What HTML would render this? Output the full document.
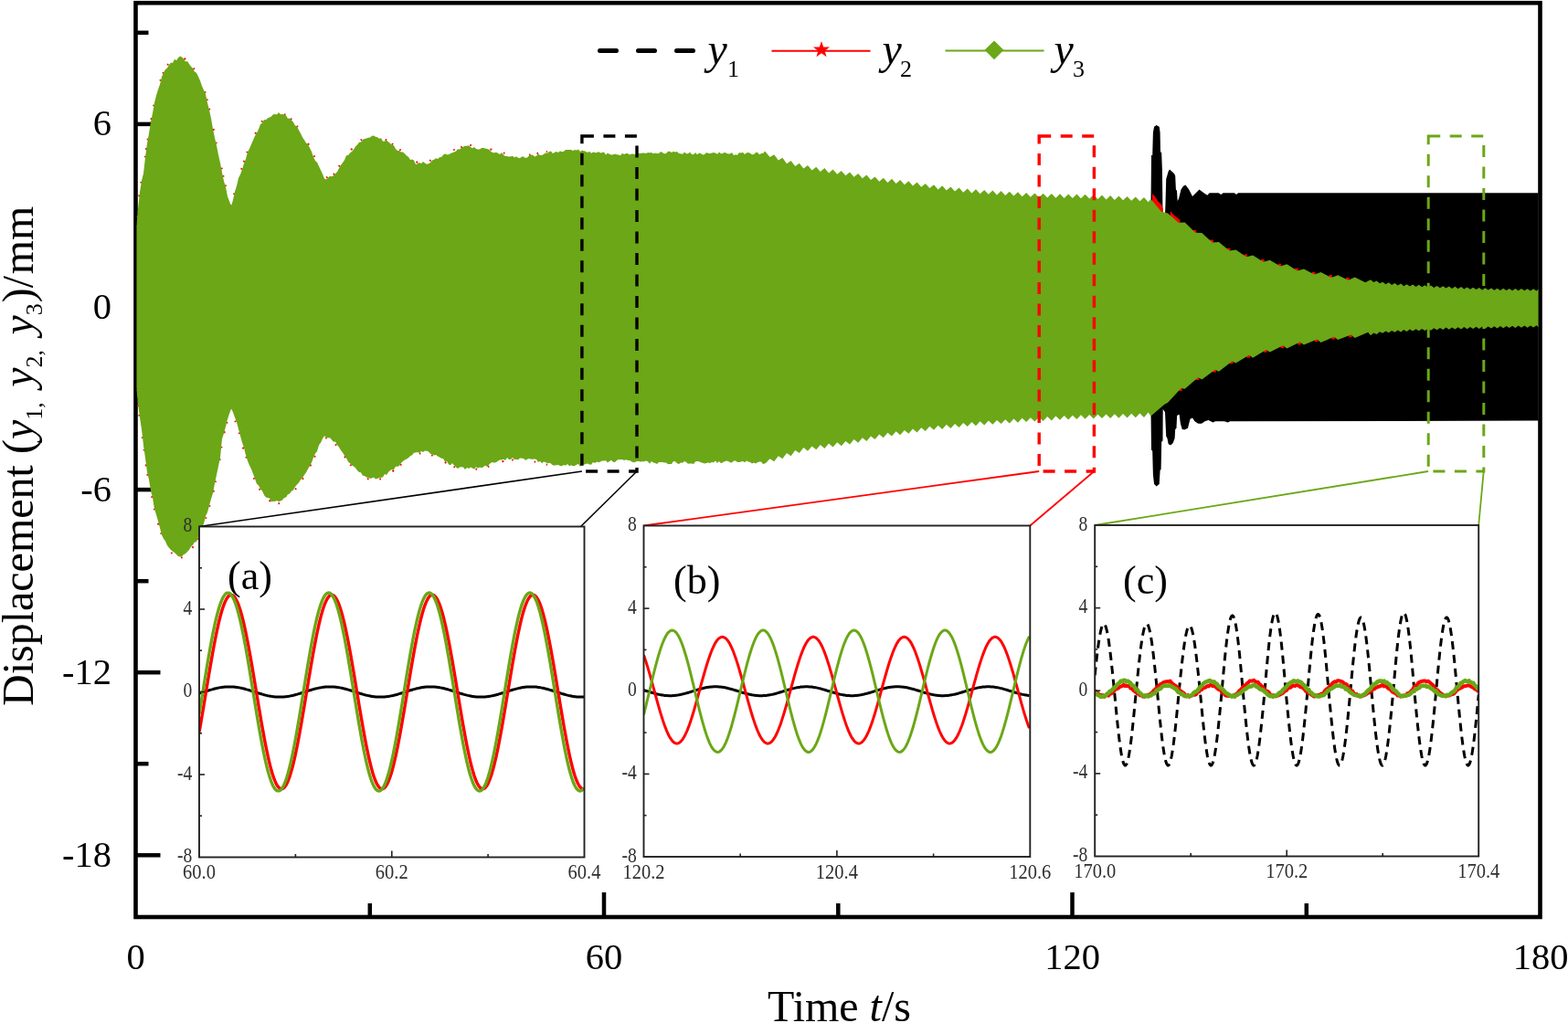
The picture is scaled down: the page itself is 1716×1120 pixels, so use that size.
<!DOCTYPE html>
<html><head><meta charset="utf-8"><style>
html,body{margin:0;padding:0;background:#fff;}
svg{display:block;}
text{font-family:"Liberation Serif","Times New Roman",serif;}
.tl{font-size:40.5px;fill:#000;}
.il{font-size:22.8px;fill:#2e2e2e;}
.pl{font-size:44px;fill:#000;}
.ttl{font-size:48px;fill:#000;}
.it{font-style:italic;}
</style></head><body>
<svg width="1716" height="1120" viewBox="0 0 1716 1120">
<defs>
<clipPath id="cmain"><rect x="149.5" y="5" width="1534" height="997"/></clipPath>
<clipPath id="ca"><rect x="218" y="576.5" width="421.5" height="362.0"/></clipPath>
<clipPath id="cb"><rect x="704.5" y="575.5" width="422.79999999999995" height="362.5"/></clipPath>
<clipPath id="cc"><rect x="1198.2" y="575" width="420.0" height="362.5"/></clipPath>
</defs>
<rect width="1716" height="1120" fill="#fff"/>
<rect x="148.5" y="3.2" width="1537" height="1000.8" fill="none" stroke="#000" stroke-width="4.6"/>
<line x1="148.5" y1="35.8" x2="162.5" y2="35.8" stroke="#000" stroke-width="4.5"/><line x1="148.5" y1="135.9" x2="175.5" y2="135.9" stroke="#000" stroke-width="4.5"/><line x1="148.5" y1="235.9" x2="162.5" y2="235.9" stroke="#000" stroke-width="4.5"/><line x1="148.5" y1="336.0" x2="175.5" y2="336.0" stroke="#000" stroke-width="4.5"/><line x1="148.5" y1="436.1" x2="162.5" y2="436.1" stroke="#000" stroke-width="4.5"/><line x1="148.5" y1="536.1" x2="175.5" y2="536.1" stroke="#000" stroke-width="4.5"/><line x1="148.5" y1="636.2" x2="162.5" y2="636.2" stroke="#000" stroke-width="4.5"/><line x1="148.5" y1="736.2" x2="175.5" y2="736.2" stroke="#000" stroke-width="4.5"/><line x1="148.5" y1="836.2" x2="162.5" y2="836.2" stroke="#000" stroke-width="4.5"/><line x1="148.5" y1="936.3" x2="175.5" y2="936.3" stroke="#000" stroke-width="4.5"/><line x1="404.8" y1="1004" x2="404.8" y2="989" stroke="#000" stroke-width="4.5"/><line x1="661.0" y1="1004" x2="661.0" y2="977" stroke="#000" stroke-width="4.5"/><line x1="917.3" y1="1004" x2="917.3" y2="989" stroke="#000" stroke-width="4.5"/><line x1="1173.5" y1="1004" x2="1173.5" y2="977" stroke="#000" stroke-width="4.5"/><line x1="1429.8" y1="1004" x2="1429.8" y2="989" stroke="#000" stroke-width="4.5"/>
<g clip-path="url(#cmain)">
<path d="M1259.5,225.0 L1260.0,170.0 L1261.2,170.0 L1261.9,145.0 L1263.1,138.7 L1265.6,136.9 L1268.7,138.7 L1269.6,145.0 L1270.0,166.0 L1271.2,167.5 L1271.9,186.0 L1272.5,236.0 L1275.0,236.0 L1275.6,218.7 L1276.2,196.0 L1278.7,187.5 L1280.0,185.6 L1285.0,190.0 L1286.2,192.5 L1286.9,207.5 L1288.0,208.7 L1288.7,220.0 L1290.0,217.5 L1292.5,207.5 L1295.0,203.7 L1297.5,202.5 L1301.2,207.5 L1305.0,215.0 L1307.5,212.5 L1312.5,207.5 L1317.5,211.2 L1321.2,213.7 L1323.7,211.2 L1333.7,211.2 L1336.2,213.0 L1338.7,211.2 L1351.0,211.2 L1353.0,213.0 L1355.0,211.2 L1684.0,211.2 L1684.0,460.6 L1346.2,461.2 L1343.7,462.5 L1340.0,461.2 L1330.0,461.2 L1327.5,462.5 L1322.5,460.0 L1318.7,461.2 L1315.0,463.7 L1311.2,463.7 L1307.5,461.2 L1305.0,457.5 L1302.5,458.7 L1301.2,463.7 L1300.0,468.7 L1296.2,470.6 L1293.7,470.0 L1291.9,463.7 L1290.6,453.7 L1288.1,455.0 L1287.5,468.7 L1286.2,470.0 L1285.6,480.0 L1283.7,485.0 L1281.2,487.5 L1278.7,486.2 L1277.5,480.0 L1276.2,477.5 L1275.0,451.2 L1272.7,448.0 L1272.5,482.5 L1271.2,483.7 L1270.6,513.7 L1269.6,515.0 L1268.7,530.0 L1265.6,532.5 L1263.1,530.0 L1261.9,520.0 L1261.2,493.7 L1260.0,492.5 L1259.5,450.0 Z" fill="#000"/>
<path d="M149.0,248.4 L150.5,233.4 L152.0,218.4 L153.5,203.9 L155.0,197.2 L156.5,190.4 L158.0,181.0 L159.5,166.5 L161.0,156.7 L162.5,147.5 L164.0,139.0 L165.5,130.7 L167.0,122.6 L168.5,114.5 L170.0,108.3 L171.5,102.3 L173.0,96.7 L174.5,91.6 L176.0,86.6 L177.5,82.6 L179.0,78.9 L180.5,75.1 L182.0,72.5 L183.5,70.9 L185.0,69.3 L186.5,67.7 L188.0,66.3 L189.5,65.5 L191.0,64.6 L192.5,63.7 L194.0,62.9 L195.5,62.0 L197.0,61.2 L198.5,61.6 L200.0,62.8 L201.5,63.9 L203.0,65.0 L204.5,66.2 L206.0,67.3 L207.5,68.4 L209.0,70.6 L210.5,72.9 L212.0,75.1 L213.5,77.4 L215.0,79.6 L216.5,82.6 L218.0,85.6 L219.5,88.6 L221.0,92.1 L222.5,95.9 L224.0,99.6 L225.5,104.2 L227.0,110.6 L228.5,117.0 L230.0,123.4 L231.5,131.0 L233.0,138.6 L234.5,146.1 L236.0,153.5 L237.5,160.9 L239.0,167.7 L240.5,174.4 L242.0,181.2 L243.5,188.6 L245.0,196.0 L246.5,201.9 L248.0,207.8 L249.5,213.7 L251.0,219.8 L252.5,225.9 L254.0,220.4 L255.5,214.8 L257.0,209.3 L258.5,203.8 L260.0,198.2 L261.5,193.4 L263.0,189.0 L264.5,184.5 L266.0,180.1 L267.5,175.6 L269.0,171.1 L270.5,166.7 L272.0,162.8 L273.5,159.5 L275.0,156.2 L276.5,152.9 L278.0,149.6 L279.5,146.2 L281.0,142.9 L282.5,139.6 L284.0,136.3 L285.5,134.1 L287.0,132.7 L288.5,131.3 L290.0,130.0 L291.5,128.6 L293.0,127.2 L294.5,125.9 L296.0,125.1 L297.5,124.7 L299.0,124.3 L300.5,123.9 L302.0,123.5 L303.5,123.1 L305.0,122.9 L306.5,123.5 L308.0,124.1 L309.5,124.7 L311.0,125.2 L312.5,125.8 L314.0,126.4 L315.5,127.7 L317.0,129.0 L318.5,130.3 L320.0,131.6 L321.5,132.9 L323.0,134.8 L324.5,137.2 L326.0,139.5 L327.5,141.9 L329.0,144.3 L330.5,146.7 L332.0,149.1 L333.5,151.4 L335.0,153.8 L336.5,156.2 L338.0,158.6 L339.5,161.6 L341.0,164.7 L342.5,167.8 L344.0,171.0 L345.5,174.1 L347.0,177.2 L348.5,180.3 L350.0,183.4 L351.5,186.6 L353.0,189.7 L354.5,192.8 L356.0,194.9 L357.5,194.3 L359.0,193.7 L360.5,193.0 L362.0,192.4 L363.5,191.7 L365.0,191.1 L366.5,188.9 L368.0,186.6 L369.5,184.4 L371.0,182.1 L372.5,179.9 L374.0,177.6 L375.5,175.4 L377.0,173.1 L378.5,170.9 L380.0,168.6 L381.5,166.6 L383.0,165.1 L384.5,163.7 L386.0,162.2 L387.5,160.7 L389.0,159.3 L390.5,157.8 L392.0,156.3 L393.5,154.9 L395.0,153.4 L396.5,152.8 L398.0,152.2 L399.5,151.6 L401.0,151.0 L402.5,150.4 L404.0,149.8 L405.5,149.2 L407.0,148.6 L408.5,148.4 L410.0,148.9 L411.5,149.4 L413.0,149.9 L414.5,150.4 L416.0,150.9 L417.5,151.4 L419.0,151.9 L420.5,152.4 L422.0,152.9 L423.5,153.4 L425.0,154.4 L426.5,155.5 L428.0,156.6 L429.5,157.7 L431.0,158.9 L432.5,160.0 L434.0,161.1 L435.5,162.2 L437.0,163.4 L438.5,164.5 L440.0,165.6 L441.5,166.7 L443.0,167.9 L444.5,169.0 L446.0,170.1 L447.5,171.2 L449.0,172.4 L450.5,173.5 L452.0,174.6 L453.5,175.7 L455.0,176.9 L456.5,177.7 L458.0,177.5 L459.5,177.4 L461.0,177.2 L462.5,177.1 L464.0,176.9 L465.5,176.8 L467.0,176.6 L468.5,176.5 L470.0,176.1 L471.5,175.4 L473.0,174.6 L474.5,173.9 L476.0,173.1 L477.5,172.4 L479.0,171.6 L480.5,170.9 L482.0,170.1 L483.5,169.4 L485.0,168.6 L486.5,167.9 L488.0,167.1 L489.5,166.5 L491.0,166.0 L492.5,165.5 L494.0,164.9 L495.5,164.4 L497.0,163.9 L498.5,163.3 L500.0,162.8 L501.5,162.3 L503.0,161.7 L504.5,161.2 L506.0,160.6 L507.5,160.1 L509.0,159.6 L510.5,159.0 L512.0,158.5 L513.5,158.6 L515.0,158.9 L516.5,159.1 L518.0,159.4 L519.5,159.6 L521.0,159.9 L522.5,160.2 L524.0,160.4 L525.5,160.7 L527.0,160.9 L528.5,161.2 L530.0,161.4 L531.5,161.8 L533.0,162.3 L534.5,162.7 L536.0,163.1 L537.5,163.6 L539.0,164.0 L540.5,164.4 L542.0,164.9 L543.5,165.3 L545.0,165.7 L546.5,166.2 L548.0,166.6 L549.5,167.0 L551.0,167.4 L552.5,167.8 L554.0,168.3 L555.5,168.7 L557.0,169.1 L558.5,169.5 L560.0,169.9 L561.5,170.1 L563.0,170.1 L564.5,170.1 L566.0,170.1 L567.5,170.1 L569.0,170.1 L570.5,170.1 L572.0,170.1 L573.5,170.1 L575.0,170.1 L576.5,170.1 L578.0,169.9 L579.5,169.6 L581.0,169.3 L582.5,169.0 L584.0,168.7 L585.5,168.4 L587.0,168.1 L588.5,167.8 L590.0,167.5 L591.5,167.2 L593.0,166.9 L594.5,166.7 L596.0,166.5 L597.5,166.2 L599.0,166.0" fill="none" stroke="#ff0000" stroke-width="2" stroke-dasharray="1.6 9 1.6 21 2 13 1.6 27 1.6 7"/>
<path d="M149.0,426.6 L150.5,438.7 L152.0,450.8 L153.5,462.8 L155.0,473.2 L156.5,483.8 L158.0,495.1 L159.5,506.3 L161.0,517.6 L162.5,525.5 L164.0,532.9 L165.5,540.3 L167.0,548.0 L168.5,555.6 L170.0,561.5 L171.5,567.1 L173.0,572.7 L174.5,577.9 L176.0,582.8 L177.5,587.7 L179.0,592.1 L180.5,594.6 L182.0,597.1 L183.5,599.6 L185.0,602.1 L186.5,604.3 L188.0,605.6 L189.5,606.8 L191.0,608.0 L192.5,609.2 L194.0,610.4 L195.5,611.6 L197.0,611.7 L198.5,610.7 L200.0,609.8 L201.5,608.8 L203.0,607.9 L204.5,606.9 L206.0,605.4 L207.5,603.5 L209.0,601.6 L210.5,599.7 L212.0,597.9 L213.5,596.0 L215.0,594.1 L216.5,590.3 L218.0,586.6 L219.5,582.8 L221.0,579.1 L222.5,575.3 L224.0,570.8 L225.5,566.3 L227.0,561.7 L228.5,557.2 L230.0,551.7 L231.5,546.1 L233.0,540.4 L234.5,533.9 L236.0,526.5 L237.5,519.1 L239.0,511.5 L240.5,503.9 L242.0,492.4 L243.5,480.2 L245.0,475.1 L246.5,470.0 L248.0,464.1 L249.5,458.7 L251.0,454.8 L252.5,450.9 L254.0,451.7 L255.5,455.7 L257.0,459.7 L258.5,463.8 L260.0,467.8 L261.5,472.1 L263.0,479.6 L264.5,485.7 L266.0,490.1 L267.5,494.5 L269.0,499.0 L270.5,503.6 L272.0,508.1 L273.5,512.0 L275.0,515.9 L276.5,519.8 L278.0,523.8 L279.5,527.9 L281.0,531.5 L282.5,533.6 L284.0,535.7 L285.5,537.8 L287.0,539.8 L288.5,541.5 L290.0,543.3 L291.5,545.0 L293.0,546.4 L294.5,547.5 L296.0,548.7 L297.5,549.9 L299.0,551.0 L300.5,551.2 L302.0,551.2 L303.5,551.2 L305.0,551.2 L306.5,550.6 L308.0,549.6 L309.5,548.7 L311.0,547.6 L312.5,546.4 L314.0,545.2 L315.5,544.0 L317.0,542.9 L318.5,541.3 L320.0,539.5 L321.5,537.7 L323.0,535.9 L324.5,534.1 L326.0,532.3 L327.5,530.0 L329.0,527.8 L330.5,525.5 L332.0,523.3 L333.5,520.7 L335.0,518.1 L336.5,515.5 L338.0,512.9 L339.5,510.0 L341.0,507.0 L342.5,503.9 L344.0,500.8 L345.5,497.6 L347.0,494.3 L348.5,491.1 L350.0,487.8 L351.5,484.6 L353.0,481.4 L354.5,480.5 L356.0,479.8 L357.5,479.3 L359.0,479.8 L360.5,480.2 L362.0,481.3 L363.5,482.8 L365.0,484.4 L366.5,485.9 L368.0,487.5 L369.5,489.3 L371.0,491.1 L372.5,492.9 L374.0,494.7 L375.5,496.9 L377.0,499.4 L378.5,501.9 L380.0,504.4 L381.5,506.4 L383.0,508.2 L384.5,510.0 L386.0,511.8 L387.5,513.6 L389.0,515.4 L390.5,517.2 L392.0,518.4 L393.5,519.3 L395.0,520.2 L396.5,521.0 L398.0,521.9 L399.5,522.8 L401.0,523.7 L402.5,524.2 L404.0,524.5 L405.5,524.9 L407.0,525.2 L408.5,525.5 L410.0,525.4 L411.5,525.1 L413.0,524.9 L414.5,524.6 L416.0,524.4 L417.5,524.1 L419.0,523.5 L420.5,522.5 L422.0,521.4 L423.5,520.4 L425.0,519.3 L426.5,518.2 L428.0,517.2 L429.5,516.1 L431.0,514.9 L432.5,513.7 L434.0,512.5 L435.5,511.3 L437.0,510.1 L438.5,508.9 L440.0,507.7 L441.5,506.5 L443.0,505.3 L444.5,504.1 L446.0,502.9 L447.5,501.7 L449.0,500.5 L450.5,499.6 L452.0,499.1 L453.5,498.6 L455.0,498.1 L456.5,497.6 L458.0,497.1 L459.5,496.5 L461.0,496.3 L462.5,496.4 L464.0,496.5 L465.5,496.6 L467.0,496.7 L468.5,496.8 L470.0,497.4 L471.5,498.0 L473.0,498.6 L474.5,499.2 L476.0,499.8 L477.5,500.4 L479.0,501.1 L480.5,501.8 L482.0,502.7 L483.5,503.7 L485.0,504.7 L486.5,505.6 L488.0,506.6 L489.5,507.6 L491.0,508.5 L492.5,509.2 L494.0,509.8 L495.5,510.5 L497.0,511.2 L498.5,511.8 L500.0,512.5 L501.5,513.1 L503.0,513.3 L504.5,513.5 L506.0,513.7 L507.5,514.0 L509.0,514.2 L510.5,514.4 L512.0,514.6 L513.5,514.4 L515.0,514.3 L516.5,514.1 L518.0,514.0 L519.5,513.8 L521.0,513.7 L522.5,513.5 L524.0,513.2 L525.5,512.9 L527.0,512.6 L528.5,512.3 L530.0,512.0 L531.5,511.7 L533.0,511.4 L534.5,510.8 L536.0,510.3 L537.5,509.7 L539.0,509.2 L540.5,508.6 L542.0,508.1 L543.5,507.6 L545.0,507.0 L546.5,506.5 L548.0,505.9 L549.5,505.4 L551.0,505.0 L552.5,504.7 L554.0,504.3 L555.5,504.0 L557.0,503.7 L558.5,503.4 L560.0,503.5 L561.5,503.5 L563.0,503.6 L564.5,503.6 L566.0,503.7 L567.5,503.7 L569.0,503.8 L570.5,503.8 L572.0,503.9 L573.5,503.9 L575.0,504.0 L576.5,504.0 L578.0,504.1 L579.5,504.1 L581.0,504.5 L582.5,504.9 L584.0,505.2 L585.5,505.6 L587.0,506.0 L588.5,506.3 L590.0,506.7 L591.5,507.1 L593.0,507.4 L594.5,507.8 L596.0,508.2 L597.5,508.5 L599.0,508.9" fill="none" stroke="#ff0000" stroke-width="2" stroke-dasharray="1.6 15 2 9 1.6 23 1.6 12"/>
<rect x="1268.4" y="229.0" width="3.6" height="3.2" fill="#ff0000"/><rect x="1287.0" y="240.9" width="3.6" height="3.2" fill="#ff0000"/><rect x="1305.6" y="252.0" width="3.6" height="3.2" fill="#ff0000"/><rect x="1324.2" y="262.6" width="3.6" height="3.2" fill="#ff0000"/><rect x="1342.8" y="271.7" width="3.6" height="3.2" fill="#ff0000"/><rect x="1361.4" y="278.4" width="3.6" height="3.2" fill="#ff0000"/><rect x="1380.0" y="283.9" width="3.6" height="3.2" fill="#ff0000"/><rect x="1398.6" y="288.7" width="3.6" height="3.2" fill="#ff0000"/><rect x="1417.2" y="293.7" width="3.6" height="3.2" fill="#ff0000"/><rect x="1435.8" y="297.8" width="3.6" height="3.2" fill="#ff0000"/><rect x="1454.4" y="301.2" width="3.6" height="3.2" fill="#ff0000"/><rect x="1473.0" y="303.9" width="3.6" height="3.2" fill="#ff0000"/><rect x="1290.0" y="424.7" width="3.6" height="3.2" fill="#ff0000"/><rect x="1308.6" y="412.9" width="3.6" height="3.2" fill="#ff0000"/><rect x="1327.2" y="404.3" width="3.6" height="3.2" fill="#ff0000"/><rect x="1345.8" y="395.1" width="3.6" height="3.2" fill="#ff0000"/><rect x="1364.4" y="388.4" width="3.6" height="3.2" fill="#ff0000"/><rect x="1383.0" y="382.5" width="3.6" height="3.2" fill="#ff0000"/><rect x="1401.6" y="377.9" width="3.6" height="3.2" fill="#ff0000"/><rect x="1420.2" y="374.1" width="3.6" height="3.2" fill="#ff0000"/><rect x="1438.8" y="371.0" width="3.6" height="3.2" fill="#ff0000"/><rect x="1457.4" y="368.3" width="3.6" height="3.2" fill="#ff0000"/><rect x="1476.0" y="366.1" width="3.6" height="3.2" fill="#ff0000"/>
<polygon points="1261,212 1264,215 1267,220 1271,224 1272.8,228 1272.8,233 1268,230 1261,222" fill="#ff0000"/>
<polygon points="1281,231 1284,235 1288,238 1291.5,241 1291.5,248 1287,246 1282,240 1280.5,236" fill="#ff0000"/>
<polygon points="1305,252 1309,254 1310,258 1306,257" fill="#ff0000"/>
<path d="M149.0,249.4 L151.0,228.9 L153.0,210.5 L155.0,197.4 L157.0,189.9 L159.0,172.2 L161.0,156.9 L163.0,146.3 L165.0,133.5 L167.0,124.0 L169.0,112.4 L171.0,104.6 L173.0,98.1 L175.0,92.6 L177.0,84.3 L179.0,79.6 L181.0,75.9 L183.0,74.5 L185.0,71.1 L187.0,68.4 L189.0,68.9 L191.0,64.8 L193.0,66.2 L195.0,63.3 L197.0,61.6 L199.0,62.4 L201.0,64.5 L203.0,67.6 L205.0,67.1 L207.0,69.9 L209.0,72.7 L211.0,74.8 L213.0,78.4 L215.0,79.8 L217.0,83.8 L219.0,88.3 L221.0,94.3 L223.0,98.5 L225.0,103.1 L227.0,112.5 L229.0,120.6 L231.0,129.4 L233.0,141.1 L235.0,150.8 L237.0,159.2 L239.0,169.5 L241.0,178.3 L243.0,188.8 L245.0,198.3 L247.0,204.8 L249.0,214.9 L251.0,220.2 L253.0,225.4 L255.0,219.1 L257.0,209.8 L259.0,203.5 L261.0,195.0 L263.0,191.1 L265.0,185.5 L267.0,178.9 L269.0,173.9 L271.0,166.2 L273.0,162.8 L275.0,158.1 L277.0,153.6 L279.0,148.8 L281.0,145.6 L283.0,141.6 L285.0,136.0 L287.0,134.8 L289.0,131.1 L291.0,131.3 L293.0,129.3 L295.0,128.6 L297.0,127.5 L299.0,125.2 L301.0,125.0 L303.0,125.4 L305.0,123.0 L307.0,125.2 L309.0,125.0 L311.0,125.6 L313.0,126.2 L315.0,129.7 L317.0,129.4 L319.0,131.5 L321.0,133.7 L323.0,137.6 L325.0,138.2 L327.0,142.6 L329.0,146.1 L331.0,150.3 L333.0,153.3 L335.0,156.6 L337.0,157.9 L339.0,161.9 L341.0,165.9 L343.0,171.7 L345.0,176.1 L347.0,177.7 L349.0,181.9 L351.0,186.3 L353.0,190.4 L355.0,195.4 L357.0,196.4 L359.0,194.5 L361.0,192.8 L363.0,193.3 L365.0,192.3 L367.0,189.9 L369.0,188.2 L371.0,184.3 L373.0,180.8 L375.0,178.1 L377.0,175.3 L379.0,170.3 L381.0,170.0 L383.0,167.6 L385.0,166.0 L387.0,163.8 L389.0,160.5 L391.0,158.6 L393.0,155.7 L395.0,155.4 L397.0,152.8 L399.0,152.0 L401.0,151.6 L403.0,150.7 L405.0,150.5 L407.0,148.7 L409.0,148.6 L411.0,149.7 L413.0,150.2 L415.0,151.7 L417.0,151.3 L419.0,154.7 L421.0,154.6 L423.0,153.7 L425.0,155.2 L427.0,157.0 L429.0,158.5 L431.0,159.2 L433.0,163.1 L435.0,165.0 L437.0,164.9 L439.0,166.4 L441.0,166.6 L443.0,168.2 L445.0,170.5 L447.0,171.7 L449.0,175.0 L451.0,174.4 L453.0,175.4 L455.0,179.9 L457.0,179.3 L459.0,177.9 L461.0,179.0 L463.0,177.1 L465.0,178.5 L467.0,179.8 L469.0,179.2 L471.0,177.9 L473.0,175.5 L475.0,174.8 L477.0,173.2 L479.0,174.1 L481.0,172.3 L483.0,172.1 L485.0,169.7 L487.0,168.3 L489.0,169.3 L491.0,169.2 L493.0,168.0 L495.0,167.2 L497.0,166.5 L499.0,165.5 L501.0,163.2 L503.0,163.4 L505.0,162.1 L507.0,160.4 L509.0,159.7 L511.0,159.8 L513.0,159.3 L515.0,161.1 L517.0,162.3 L519.0,161.0 L521.0,162.9 L523.0,163.4 L525.0,163.6 L527.0,162.1 L529.0,162.0 L531.0,162.4 L533.0,162.9 L535.0,163.5 L537.0,165.4 L539.0,166.9 L541.0,167.3 L543.0,166.7 L545.0,167.8 L547.0,168.9 L549.0,167.1 L551.0,169.5 L553.0,170.9 L555.0,171.0 L557.0,171.5 L559.0,171.2 L561.0,170.7 L563.0,172.6 L565.0,171.2 L567.0,172.7 L569.0,173.2 L571.0,171.4 L573.0,171.4 L575.0,173.1 L577.0,172.4 L579.0,170.2 L581.0,169.7 L583.0,169.4 L585.0,171.4 L587.0,170.7 L589.0,168.2 L591.0,170.0 L593.0,170.1 L595.0,168.7 L597.0,167.4 L599.0,167.7 L601.0,166.1 L603.0,165.4 L605.0,168.1 L607.0,166.8 L609.0,166.1 L611.0,167.1 L613.0,165.2 L615.0,166.2 L617.0,165.8 L619.0,163.9 L621.0,164.0 L623.0,164.1 L625.0,164.0 L627.0,165.1 L629.0,164.0 L631.0,164.5 L633.0,163.6 L635.0,166.1 L637.0,164.6 L639.0,165.2 L641.0,165.8 L643.0,167.1 L645.0,165.8 L647.0,167.7 L649.0,166.6 L651.0,167.0 L653.0,167.2 L655.0,165.9 L657.0,167.5 L659.0,166.9 L661.0,166.6 L663.0,169.4 L665.0,167.6 L667.0,168.7 L669.0,169.6 L671.0,169.2 L673.0,168.6 L675.0,169.3 L677.0,169.6 L679.0,170.2 L681.0,167.8 L683.0,169.1 L685.0,168.0 L687.0,167.9 L689.0,169.4 L691.0,168.4 L693.0,168.4 L695.0,168.9 L697.0,169.2 L699.0,167.6 L701.0,168.0 L703.0,167.6 L705.0,167.5 L707.0,168.0 L709.0,167.1 L711.0,167.2 L713.0,167.0 L715.0,168.3 L717.0,167.5 L719.0,167.9 L721.0,168.0 L723.0,165.9 L725.0,166.9 L727.0,168.2 L729.0,167.9 L731.0,165.8 L733.0,165.8 L735.0,166.9 L737.0,165.8 L739.0,166.4 L741.0,165.9 L743.0,167.9 L745.0,168.3 L747.0,168.7 L749.0,166.4 L751.0,168.3 L753.0,168.2 L755.0,166.6 L757.0,169.0 L759.0,169.3 L761.0,167.0 L763.0,169.3 L765.0,167.6 L767.0,167.9 L769.0,169.5 L771.0,169.0 L773.0,166.9 L775.0,167.8 L777.0,168.1 L779.0,167.5 L781.0,167.1 L783.0,167.5 L785.0,168.8 L787.0,166.6 L789.0,168.3 L791.0,168.0 L793.0,166.7 L795.0,167.7 L797.0,168.6 L799.0,168.3 L801.0,166.9 L803.0,169.9 L805.0,169.2 L807.0,169.7 L809.0,166.9 L811.0,167.4 L813.0,166.7 L815.0,169.0 L817.0,167.3 L819.0,166.9 L821.0,167.8 L823.0,169.3 L825.0,169.0 L827.0,167.1 L829.0,166.7 L831.0,169.2 L833.0,168.0 L835.0,168.0 L837.0,165.5 L838.0,166.5 L842.6,172.1 L847.2,169.2 L851.8,175.6 L856.4,172.8 L861.0,179.3 L865.6,176.1 L870.2,182.1 L874.8,178.8 L879.4,184.5 L884.0,181.1 L888.6,186.6 L893.2,182.7 L897.8,188.0 L902.4,184.1 L907.0,189.4 L911.6,185.5 L916.2,190.8 L920.8,187.0 L925.4,192.3 L930.0,188.4 L934.6,193.7 L939.2,189.9 L943.8,195.3 L948.4,191.6 L953.0,197.1 L957.6,193.4 L962.2,198.7 L966.8,194.7 L971.4,199.9 L976.0,195.8 L980.6,201.0 L985.2,197.0 L989.8,202.2 L994.4,198.3 L999.0,203.5 L1003.6,199.6 L1008.2,204.8 L1012.8,200.9 L1017.4,206.1 L1022.0,202.2 L1026.6,207.4 L1031.2,203.3 L1035.8,208.5 L1040.4,204.4 L1045.0,209.6 L1049.6,205.5 L1054.2,210.7 L1058.8,206.6 L1063.4,211.6 L1068.0,207.3 L1072.6,212.2 L1077.2,207.9 L1081.8,212.8 L1086.4,208.5 L1091.0,213.4 L1095.6,209.1 L1100.2,214.0 L1104.8,209.7 L1109.4,214.6 L1114.0,210.3 L1118.6,215.2 L1123.2,210.9 L1127.8,215.8 L1132.4,211.5 L1137.0,216.3 L1141.6,211.8 L1146.2,216.5 L1150.8,212.0 L1155.4,216.7 L1160.0,212.2 L1164.6,216.9 L1169.2,212.4 L1173.8,217.1 L1178.4,212.6 L1183.0,217.3 L1187.6,212.8 L1192.2,217.6 L1196.8,213.2 L1201.4,218.0 L1206.0,213.6 L1210.6,218.4 L1215.2,214.1 L1219.8,218.9 L1224.4,214.5 L1229.0,219.3 L1233.6,215.0 L1238.2,219.8 L1242.8,215.4 L1247.4,220.2 L1252.0,215.9 L1256.6,221.3 L1259.5,218.0 L1271.0,231.8 L1278.1,233.4 L1289.6,243.7 L1296.7,243.6 L1308.2,254.8 L1315.3,255.1 L1326.8,265.4 L1333.9,265.1 L1345.4,274.5 L1352.5,273.6 L1364.0,281.2 L1371.1,279.4 L1382.6,286.7 L1389.7,284.7 L1401.2,291.5 L1408.3,289.3 L1419.8,296.5 L1426.9,294.4 L1438.4,300.6 L1445.5,297.9 L1457.0,304.0 L1464.1,301.3 L1475.6,306.7 L1482.7,303.6 L1494.2,309.3 L1500.0,306.2 L1503.3,309.1 L1506.6,307.5 L1509.9,310.3 L1513.2,308.7 L1516.5,311.2 L1519.8,309.3 L1523.1,311.9 L1526.4,310.0 L1529.7,312.5 L1533.0,310.6 L1536.3,313.2 L1539.6,311.2 L1542.9,313.5 L1546.2,311.5 L1549.5,313.9 L1552.8,311.8 L1556.1,314.2 L1559.4,312.2 L1562.7,314.5 L1566.0,312.5 L1569.3,314.9 L1572.6,312.9 L1575.9,315.2 L1579.2,313.2 L1582.5,315.6 L1585.8,313.5 L1589.1,315.9 L1592.4,313.8 L1595.7,316.2 L1599.0,314.1 L1602.3,316.5 L1605.6,314.5 L1608.9,316.8 L1612.2,314.7 L1615.5,317.1 L1618.8,315.0 L1622.1,317.4 L1625.4,315.3 L1628.7,317.6 L1632.0,315.5 L1635.3,317.8 L1638.6,315.7 L1641.9,318.0 L1645.2,315.8 L1648.5,318.1 L1651.8,316.0 L1655.1,318.2 L1658.4,316.0 L1661.7,318.3 L1665.0,316.1 L1668.3,318.3 L1671.6,316.2 L1674.9,318.4 L1678.2,316.2 L1681.5,318.5 L1684.0,316.3 L1684.0,358.4 L1681.5,356.3 L1678.2,358.5 L1674.9,356.4 L1671.6,358.7 L1668.3,356.5 L1665.0,358.8 L1661.7,356.6 L1658.4,358.9 L1655.1,356.8 L1651.8,359.0 L1648.5,356.9 L1645.2,359.2 L1641.9,357.1 L1638.6,359.4 L1635.3,357.3 L1632.0,359.5 L1628.7,357.4 L1625.4,359.7 L1622.1,357.6 L1618.8,359.9 L1615.5,357.8 L1612.2,360.1 L1608.9,357.9 L1605.6,360.2 L1602.3,358.1 L1599.0,360.4 L1595.7,358.3 L1592.4,360.6 L1589.1,358.4 L1585.8,360.7 L1582.5,358.6 L1579.2,361.0 L1575.9,359.0 L1572.6,361.3 L1569.3,359.3 L1566.0,361.7 L1562.7,359.7 L1559.4,362.0 L1556.1,360.0 L1552.8,362.3 L1549.5,360.3 L1546.2,362.6 L1542.9,360.6 L1539.6,363.0 L1536.3,360.9 L1533.0,363.4 L1529.7,361.4 L1526.4,363.8 L1523.1,361.9 L1519.8,364.3 L1516.5,362.4 L1513.2,364.8 L1509.9,363.2 L1506.6,366.0 L1503.3,364.4 L1500.0,367.2 L1497.2,363.7 L1482.7,370.1 L1478.6,366.5 L1464.1,372.1 L1460.0,368.7 L1445.5,374.9 L1441.4,371.4 L1426.9,377.5 L1422.8,374.5 L1408.3,381.6 L1404.2,378.3 L1389.7,385.5 L1385.6,382.9 L1371.1,391.7 L1367.0,388.8 L1352.5,397.5 L1348.4,395.5 L1333.9,406.7 L1329.8,404.7 L1315.3,415.6 L1311.2,413.3 L1296.7,425.7 L1292.6,425.1 L1278.1,440.7 L1274.0,443.0 L1259.5,455.5 L1256.6,451.6 L1252.0,457.0 L1247.4,452.5 L1242.8,457.2 L1238.2,452.7 L1233.6,457.5 L1229.0,453.0 L1224.4,457.7 L1219.8,453.2 L1215.2,457.9 L1210.6,453.4 L1206.0,458.1 L1201.4,453.7 L1196.8,458.4 L1192.2,454.0 L1187.6,458.8 L1183.0,454.3 L1178.4,459.1 L1173.8,454.7 L1169.2,459.5 L1164.6,455.0 L1160.0,459.8 L1155.4,455.5 L1150.8,460.4 L1146.2,456.1 L1141.6,461.0 L1137.0,456.7 L1132.4,461.6 L1127.8,457.2 L1123.2,462.1 L1118.6,457.8 L1114.0,462.7 L1109.4,458.5 L1104.8,463.4 L1100.2,459.2 L1095.6,464.1 L1091.0,459.9 L1086.4,464.8 L1081.8,460.5 L1077.2,465.5 L1072.6,461.2 L1068.0,466.2 L1063.4,462.0 L1058.8,467.1 L1054.2,462.9 L1049.6,468.0 L1045.0,463.9 L1040.4,468.9 L1035.8,464.8 L1031.2,469.9 L1026.6,465.7 L1022.0,470.8 L1017.4,466.8 L1012.8,472.1 L1008.2,468.2 L1003.6,473.4 L999.0,469.5 L994.4,474.8 L989.8,470.9 L985.2,476.2 L980.6,472.3 L976.0,477.6 L971.4,473.8 L966.8,479.3 L962.2,475.6 L957.6,481.1 L953.0,477.4 L948.4,482.9 L943.8,479.3 L939.2,484.8 L934.6,481.1 L930.0,486.6 L925.4,482.9 L920.8,488.2 L916.2,484.3 L911.6,489.6 L907.0,485.6 L902.4,490.9 L897.8,487.0 L893.2,492.3 L888.6,488.4 L884.0,493.7 L879.4,489.9 L874.8,496.1 L870.2,493.0 L865.6,499.2 L861.0,496.1 L856.4,502.2 L851.8,499.2 L847.2,505.3 L842.6,502.2 L838.0,507.0 L837.0,507.4 L835.0,507.9 L833.0,505.5 L831.0,505.5 L829.0,506.2 L827.0,507.4 L825.0,506.6 L823.0,507.6 L821.0,506.0 L819.0,505.4 L817.0,504.4 L815.0,506.3 L813.0,505.0 L811.0,505.5 L809.0,506.1 L807.0,505.9 L805.0,504.4 L803.0,504.5 L801.0,506.4 L799.0,506.2 L797.0,505.0 L795.0,504.6 L793.0,505.2 L791.0,506.3 L789.0,507.3 L787.0,505.1 L785.0,506.9 L783.0,504.5 L781.0,506.2 L779.0,505.9 L777.0,506.9 L775.0,506.6 L773.0,506.9 L771.0,507.6 L769.0,506.8 L767.0,506.3 L765.0,505.2 L763.0,505.0 L761.0,505.5 L759.0,507.9 L757.0,507.5 L755.0,507.5 L753.0,507.8 L751.0,506.1 L749.0,504.9 L747.0,506.8 L745.0,506.5 L743.0,507.9 L741.0,507.3 L739.0,505.2 L737.0,505.1 L735.0,507.9 L733.0,507.9 L731.0,508.2 L729.0,506.6 L727.0,506.5 L725.0,506.0 L723.0,506.1 L721.0,506.0 L719.0,507.9 L717.0,507.0 L715.0,506.5 L713.0,505.1 L711.0,507.7 L709.0,505.3 L707.0,504.5 L705.0,505.3 L703.0,505.2 L701.0,505.6 L699.0,505.1 L697.0,505.0 L695.0,505.9 L693.0,506.3 L691.0,505.2 L689.0,504.1 L687.0,503.9 L685.0,503.3 L683.0,504.0 L681.0,503.1 L679.0,503.3 L677.0,503.1 L675.0,504.0 L673.0,505.9 L671.0,505.8 L669.0,503.8 L667.0,504.9 L665.0,506.4 L663.0,504.3 L661.0,504.4 L659.0,504.6 L657.0,505.5 L655.0,506.2 L653.0,505.6 L651.0,507.0 L649.0,506.1 L647.0,508.8 L645.0,508.4 L643.0,507.4 L641.0,507.9 L639.0,508.7 L637.0,508.0 L635.0,510.9 L633.0,508.1 L631.0,508.8 L629.0,510.0 L627.0,510.3 L625.0,509.3 L623.0,510.2 L621.0,507.9 L619.0,509.8 L617.0,509.1 L615.0,510.2 L613.0,510.0 L611.0,508.9 L609.0,509.3 L607.0,509.4 L605.0,509.5 L603.0,507.4 L601.0,506.7 L599.0,507.3 L597.0,506.1 L595.0,505.5 L593.0,507.2 L591.0,504.7 L589.0,505.9 L587.0,503.1 L585.0,502.4 L583.0,502.7 L581.0,502.7 L579.0,502.0 L577.0,502.7 L575.0,504.0 L573.0,501.9 L571.0,501.8 L569.0,501.5 L567.0,503.4 L565.0,502.7 L563.0,503.3 L561.0,500.7 L559.0,502.9 L557.0,502.9 L555.0,500.9 L553.0,504.0 L551.0,502.8 L549.0,503.5 L547.0,503.5 L545.0,504.8 L543.0,506.0 L541.0,506.8 L539.0,506.0 L537.0,506.8 L535.0,509.0 L533.0,511.0 L531.0,509.4 L529.0,511.3 L527.0,512.3 L525.0,511.4 L523.0,512.8 L521.0,510.9 L519.0,513.7 L517.0,512.6 L515.0,511.5 L513.0,513.1 L511.0,512.0 L509.0,514.0 L507.0,511.4 L505.0,511.3 L503.0,511.5 L501.0,512.9 L499.0,511.5 L497.0,509.4 L495.0,507.1 L493.0,509.2 L491.0,508.4 L489.0,504.7 L487.0,505.6 L485.0,501.9 L483.0,501.7 L481.0,500.4 L479.0,499.5 L477.0,498.0 L475.0,498.4 L473.0,497.6 L471.0,496.7 L469.0,494.6 L467.0,493.7 L465.0,493.4 L463.0,495.1 L461.0,494.1 L459.0,495.9 L457.0,495.0 L455.0,495.4 L453.0,495.8 L451.0,498.3 L449.0,499.2 L447.0,501.3 L445.0,502.6 L443.0,503.6 L441.0,504.9 L439.0,506.8 L437.0,510.0 L435.0,510.8 L433.0,510.7 L431.0,514.0 L429.0,514.1 L427.0,514.9 L425.0,516.9 L423.0,519.9 L421.0,519.1 L419.0,522.4 L417.0,522.7 L415.0,523.0 L413.0,524.1 L411.0,524.6 L409.0,522.4 L407.0,523.6 L405.0,523.7 L403.0,523.1 L401.0,522.5 L399.0,521.1 L397.0,520.8 L395.0,517.3 L393.0,516.9 L391.0,515.0 L389.0,512.3 L387.0,510.5 L385.0,509.6 L383.0,507.2 L381.0,505.5 L379.0,501.4 L377.0,498.8 L375.0,495.4 L373.0,493.0 L371.0,489.5 L369.0,487.2 L367.0,483.6 L365.0,483.8 L363.0,481.5 L361.0,479.2 L359.0,479.4 L357.0,478.7 L355.0,477.2 L353.0,480.3 L351.0,484.8 L349.0,487.3 L347.0,494.3 L345.0,496.5 L343.0,501.0 L341.0,506.6 L339.0,510.1 L337.0,513.5 L335.0,517.3 L333.0,520.1 L331.0,523.5 L329.0,525.3 L327.0,528.5 L325.0,530.4 L323.0,532.9 L321.0,536.4 L319.0,537.8 L317.0,540.5 L315.0,541.3 L313.0,544.4 L311.0,545.0 L309.0,547.4 L307.0,548.6 L305.0,549.2 L303.0,548.0 L301.0,549.1 L299.0,548.8 L297.0,549.4 L295.0,545.5 L293.0,544.9 L291.0,544.4 L289.0,542.0 L287.0,537.4 L285.0,535.4 L283.0,531.6 L281.0,529.8 L279.0,524.3 L277.0,518.7 L275.0,513.6 L273.0,509.6 L271.0,504.7 L269.0,498.5 L267.0,490.1 L265.0,484.5 L263.0,477.2 L261.0,469.7 L259.0,462.2 L257.0,457.0 L255.0,451.3 L253.0,447.5 L251.0,452.9 L249.0,458.9 L247.0,467.2 L245.0,474.6 L243.0,480.5 L241.0,501.3 L239.0,510.5 L237.0,520.0 L235.0,529.5 L233.0,539.9 L231.0,546.3 L229.0,553.7 L227.0,561.1 L225.0,564.9 L223.0,573.6 L221.0,577.4 L219.0,581.5 L217.0,587.7 L215.0,593.2 L213.0,593.4 L211.0,596.7 L209.0,598.5 L207.0,602.0 L205.0,604.0 L203.0,606.3 L201.0,606.9 L199.0,609.6 L197.0,609.5 L195.0,609.0 L193.0,607.1 L191.0,604.9 L189.0,603.7 L187.0,601.9 L185.0,599.7 L183.0,597.3 L181.0,592.6 L179.0,589.8 L177.0,585.8 L175.0,578.1 L173.0,570.6 L171.0,563.5 L169.0,557.3 L167.0,545.0 L165.0,537.3 L163.0,525.0 L161.0,517.0 L159.0,501.4 L157.0,487.4 L155.0,470.3 L153.0,457.0 L151.0,441.7 L149.0,423.6 Z" fill="#6ba717"/>
</g>
<text x="122" y="148.4" text-anchor="end" class="tl">6</text><text x="122" y="348.5" text-anchor="end" class="tl">0</text><text x="122" y="548.6" text-anchor="end" class="tl">-6</text><text x="122" y="748.7" text-anchor="end" class="tl">-12</text><text x="122" y="948.8" text-anchor="end" class="tl">-18</text>
<text x="148.5" y="1060.5" text-anchor="middle" class="tl">0</text><text x="661.0" y="1060.5" text-anchor="middle" class="tl">60</text><text x="1173.5" y="1060.5" text-anchor="middle" class="tl">120</text><text x="1686.0" y="1060.5" text-anchor="middle" class="tl">180</text>
<text x="840" y="1118" class="ttl">Time <tspan class="it">t</tspan>/s</text>
<text transform="translate(35.5,773) rotate(-90)" class="ttl">Displacement (<tspan class="it">y</tspan><tspan font-size="26" dy="10">1,</tspan><tspan dy="-10" dx="4.5"> </tspan><tspan class="it">y</tspan><tspan font-size="26" dy="10">2,</tspan><tspan dy="-10" dx="4.5"> </tspan><tspan class="it">y</tspan><tspan font-size="26" dy="10">3</tspan><tspan dy="-10" dx="1">)/</tspan><tspan dx="1.5">mm</tspan></text>
<!-- legend -->
<line x1="656.5" y1="55.5" x2="759" y2="55.5" stroke="#000" stroke-width="5" stroke-linecap="round" stroke-dasharray="18 24"/>
<text x="774.5" y="69.5" class="ttl it">y</text><text x="796" y="84" font-size="26">1</text>
<line x1="844.5" y1="55.8" x2="952.5" y2="55.8" stroke="#ff0000" stroke-width="2"/>
<polygon points="899.0,45.0 901.2,51.4 908.0,51.6 902.6,55.7 904.6,62.2 899.0,58.3 893.4,62.2 895.4,55.7 890.0,51.6 896.8,51.4" fill="#ff0000"/>
<text x="965.5" y="69.5" class="ttl it">y</text><text x="985" y="84" font-size="26">2</text>
<line x1="1034.5" y1="55.6" x2="1142.5" y2="55.6" stroke="#6ba717" stroke-width="2"/>
<polygon points="1088,44.4 1098.4,54.8 1088,65.2 1077.6,54.8" fill="#6ba717"/>
<text x="1153.5" y="69.5" class="ttl it">y</text><text x="1174" y="84" font-size="26">3</text>
<!-- dashed rects -->
<rect x="636.9" y="149" width="60.10000000000002" height="367" fill="none" stroke="#000" stroke-width="3.4" stroke-dasharray="13 10.5"/>
<rect x="1137.2" y="149" width="60.200000000000045" height="367" fill="none" stroke="#ff0000" stroke-width="3.4" stroke-dasharray="13 10.5"/>
<rect x="1563.2" y="149" width="60.59999999999991" height="367" fill="none" stroke="#6ba717" stroke-width="3.0" stroke-dasharray="13 10.5"/>
<!-- connectors -->
<line x1="636.9" y1="516" x2="218" y2="576.5" stroke="#000" stroke-width="1.6"/>
<line x1="697" y1="516" x2="635.5" y2="576.5" stroke="#000" stroke-width="1.6"/>
<line x1="1137.2" y1="516" x2="704.5" y2="575.5" stroke="#ff0000" stroke-width="1.8"/>
<line x1="1197.4" y1="516" x2="1127.3" y2="575.5" stroke="#ff0000" stroke-width="1.8"/>
<line x1="1563" y1="516" x2="1198.2" y2="575" stroke="#6ba717" stroke-width="1.8"/>
<line x1="1623.7" y1="516" x2="1618.2" y2="575" stroke="#6ba717" stroke-width="1.8"/>
<rect x="218" y="576.5" width="421.5" height="362.0" fill="#fff"/>
<g clip-path="url(#ca)">
<path d="M218.0,759.2 L219.0,758.9 L220.0,758.6 L221.0,758.3 L222.0,758.0 L223.0,757.7 L224.0,757.3 L225.0,757.0 L226.0,756.7 L227.0,756.4 L228.0,756.1 L229.0,755.7 L230.0,755.4 L231.0,755.1 L232.0,754.9 L233.0,754.6 L234.0,754.3 L235.0,754.0 L236.0,753.8 L237.0,753.6 L238.0,753.3 L239.0,753.1 L240.0,752.9 L241.0,752.7 L242.0,752.6 L243.0,752.4 L244.0,752.3 L245.0,752.2 L246.0,752.1 L247.0,752.0 L248.0,751.9 L249.0,751.9 L250.0,751.9 L251.0,751.9 L252.0,751.9 L253.0,751.9 L254.0,751.9 L255.0,752.0 L256.0,752.1 L257.0,752.2 L258.0,752.3 L259.0,752.4 L260.0,752.6 L261.0,752.7 L262.0,752.9 L263.0,753.1 L264.0,753.3 L265.0,753.6 L266.0,753.8 L267.0,754.0 L268.0,754.3 L269.0,754.6 L270.0,754.9 L271.0,755.1 L272.0,755.4 L273.0,755.7 L274.0,756.1 L275.0,756.4 L276.0,756.7 L277.0,757.0 L278.0,757.3 L279.0,757.7 L280.0,758.0 L281.0,758.3 L282.0,758.6 L283.0,758.9 L284.0,759.2 L285.0,759.5 L286.0,759.8 L287.0,760.1 L288.0,760.4 L289.0,760.7 L290.0,760.9 L291.0,761.2 L292.0,761.4 L293.0,761.7 L294.0,761.9 L295.0,762.1 L296.0,762.2 L297.0,762.4 L298.0,762.6 L299.0,762.7 L300.0,762.8 L301.0,762.9 L302.0,763.0 L303.0,763.1 L304.0,763.1 L305.0,763.1 L306.0,763.1 L307.0,763.1 L308.0,763.1 L309.0,763.1 L310.0,763.0 L311.0,762.9 L312.0,762.8 L313.0,762.7 L314.0,762.6 L315.0,762.4 L316.0,762.3 L317.0,762.1 L318.0,761.9 L319.0,761.7 L320.0,761.5 L321.0,761.2 L322.0,761.0 L323.0,760.7 L324.0,760.4 L325.0,760.2 L326.0,759.9 L327.0,759.6 L328.0,759.3 L329.0,759.0 L330.0,758.6 L331.0,758.3 L332.0,758.0 L333.0,757.7 L334.0,757.4 L335.0,757.0 L336.0,756.7 L337.0,756.4 L338.0,756.1 L339.0,755.8 L340.0,755.5 L341.0,755.2 L342.0,754.9 L343.0,754.6 L344.0,754.3 L345.0,754.1 L346.0,753.8 L347.0,753.6 L348.0,753.4 L349.0,753.1 L350.0,752.9 L351.0,752.8 L352.0,752.6 L353.0,752.4 L354.0,752.3 L355.0,752.2 L356.0,752.1 L357.0,752.0 L358.0,751.9 L359.0,751.9 L360.0,751.9 L361.0,751.9 L362.0,751.9 L363.0,751.9 L364.0,751.9 L365.0,752.0 L366.0,752.1 L367.0,752.2 L368.0,752.3 L369.0,752.4 L370.0,752.6 L371.0,752.7 L372.0,752.9 L373.0,753.1 L374.0,753.3 L375.0,753.5 L376.0,753.8 L377.0,754.0 L378.0,754.3 L379.0,754.6 L380.0,754.8 L381.0,755.1 L382.0,755.4 L383.0,755.7 L384.0,756.0 L385.0,756.3 L386.0,756.7 L387.0,757.0 L388.0,757.3 L389.0,757.6 L390.0,757.9 L391.0,758.3 L392.0,758.6 L393.0,758.9 L394.0,759.2 L395.0,759.5 L396.0,759.8 L397.0,760.1 L398.0,760.4 L399.0,760.7 L400.0,760.9 L401.0,761.2 L402.0,761.4 L403.0,761.6 L404.0,761.8 L405.0,762.0 L406.0,762.2 L407.0,762.4 L408.0,762.5 L409.0,762.7 L410.0,762.8 L411.0,762.9 L412.0,763.0 L413.0,763.1 L414.0,763.1 L415.0,763.1 L416.0,763.1 L417.0,763.1 L418.0,763.1 L419.0,763.1 L420.0,763.0 L421.0,762.9 L422.0,762.8 L423.0,762.7 L424.0,762.6 L425.0,762.4 L426.0,762.3 L427.0,762.1 L428.0,761.9 L429.0,761.7 L430.0,761.5 L431.0,761.2 L432.0,761.0 L433.0,760.7 L434.0,760.5 L435.0,760.2 L436.0,759.9 L437.0,759.6 L438.0,759.3 L439.0,759.0 L440.0,758.7 L441.0,758.4 L442.0,758.0 L443.0,757.7 L444.0,757.4 L445.0,757.1 L446.0,756.8 L447.0,756.4 L448.0,756.1 L449.0,755.8 L450.0,755.5 L451.0,755.2 L452.0,754.9 L453.0,754.6 L454.0,754.4 L455.0,754.1 L456.0,753.8 L457.0,753.6 L458.0,753.4 L459.0,753.2 L460.0,753.0 L461.0,752.8 L462.0,752.6 L463.0,752.5 L464.0,752.3 L465.0,752.2 L466.0,752.1 L467.0,752.0 L468.0,751.9 L469.0,751.9 L470.0,751.9 L471.0,751.9 L472.0,751.9 L473.0,751.9 L474.0,751.9 L475.0,752.0 L476.0,752.1 L477.0,752.2 L478.0,752.3 L479.0,752.4 L480.0,752.5 L481.0,752.7 L482.0,752.9 L483.0,753.1 L484.0,753.3 L485.0,753.5 L486.0,753.7 L487.0,754.0 L488.0,754.3 L489.0,754.5 L490.0,754.8 L491.0,755.1 L492.0,755.4 L493.0,755.7 L494.0,756.0 L495.0,756.3 L496.0,756.6 L497.0,756.9 L498.0,757.3 L499.0,757.6 L500.0,757.9 L501.0,758.2 L502.0,758.5 L503.0,758.9 L504.0,759.2 L505.0,759.5 L506.0,759.8 L507.0,760.1 L508.0,760.4 L509.0,760.6 L510.0,760.9 L511.0,761.1 L512.0,761.4 L513.0,761.6 L514.0,761.8 L515.0,762.0 L516.0,762.2 L517.0,762.4 L518.0,762.5 L519.0,762.7 L520.0,762.8 L521.0,762.9 L522.0,763.0 L523.0,763.1 L524.0,763.1 L525.0,763.1 L526.0,763.1 L527.0,763.1 L528.0,763.1 L529.0,763.1 L530.0,763.0 L531.0,762.9 L532.0,762.8 L533.0,762.7 L534.0,762.6 L535.0,762.5 L536.0,762.3 L537.0,762.1 L538.0,761.9 L539.0,761.7 L540.0,761.5 L541.0,761.3 L542.0,761.0 L543.0,760.8 L544.0,760.5 L545.0,760.2 L546.0,759.9 L547.0,759.6 L548.0,759.3 L549.0,759.0 L550.0,758.7 L551.0,758.4 L552.0,758.1 L553.0,757.7 L554.0,757.4 L555.0,757.1 L556.0,756.8 L557.0,756.5 L558.0,756.2 L559.0,755.8 L560.0,755.5 L561.0,755.2 L562.0,754.9 L563.0,754.7 L564.0,754.4 L565.0,754.1 L566.0,753.9 L567.0,753.6 L568.0,753.4 L569.0,753.2 L570.0,753.0 L571.0,752.8 L572.0,752.6 L573.0,752.5 L574.0,752.3 L575.0,752.2 L576.0,752.1 L577.0,752.0 L578.0,751.9 L579.0,751.9 L580.0,751.9 L581.0,751.9 L582.0,751.9 L583.0,751.9 L584.0,751.9 L585.0,752.0 L586.0,752.1 L587.0,752.1 L588.0,752.3 L589.0,752.4 L590.0,752.5 L591.0,752.7 L592.0,752.9 L593.0,753.1 L594.0,753.3 L595.0,753.5 L596.0,753.7 L597.0,754.0 L598.0,754.2 L599.0,754.5 L600.0,754.8 L601.0,755.1 L602.0,755.4 L603.0,755.7 L604.0,756.0 L605.0,756.3 L606.0,756.6 L607.0,756.9 L608.0,757.2 L609.0,757.6 L610.0,757.9 L611.0,758.2 L612.0,758.5 L613.0,758.8 L614.0,759.1 L615.0,759.5 L616.0,759.7 L617.0,760.0 L618.0,760.3 L619.0,760.6 L620.0,760.9 L621.0,761.1 L622.0,761.4 L623.0,761.6 L624.0,761.8 L625.0,762.0 L626.0,762.2 L627.0,762.4 L628.0,762.5 L629.0,762.7 L630.0,762.8 L631.0,762.9 L632.0,763.0 L633.0,763.0 L634.0,763.1 L635.0,763.1 L636.0,763.1 L637.0,763.1 L638.0,763.1 L639.0,763.1" fill="none" stroke="#000" stroke-width="3"/>
<path d="M218.0,801.4 L219.0,795.9 L220.0,790.2 L221.0,784.3 L222.0,778.4 L223.0,772.5 L224.0,766.4 L225.0,760.4 L226.0,754.3 L227.0,748.3 L228.0,742.2 L229.0,736.3 L230.0,730.4 L231.0,724.6 L232.0,718.9 L233.0,713.3 L234.0,707.8 L235.0,702.6 L236.0,697.5 L237.0,692.6 L238.0,687.9 L239.0,683.4 L240.0,679.2 L241.0,675.2 L242.0,671.5 L243.0,668.1 L244.0,665.0 L245.0,662.2 L246.0,659.6 L247.0,657.4 L248.0,655.6 L249.0,654.0 L250.0,652.8 L251.0,652.0 L252.0,651.5 L253.0,651.3 L254.0,651.5 L255.0,652.0 L256.0,652.8 L257.0,654.0 L258.0,655.6 L259.0,657.4 L260.0,659.6 L261.0,662.2 L262.0,665.0 L263.0,668.1 L264.0,671.5 L265.0,675.2 L266.0,679.2 L267.0,683.4 L268.0,687.9 L269.0,692.6 L270.0,697.5 L271.0,702.6 L272.0,707.8 L273.0,713.3 L274.0,718.9 L275.0,724.6 L276.0,730.4 L277.0,736.3 L278.0,742.2 L279.0,748.3 L280.0,754.3 L281.0,760.4 L282.0,766.4 L283.0,772.5 L284.0,778.4 L285.0,784.3 L286.0,790.2 L287.0,795.9 L288.0,801.4 L289.0,806.9 L290.0,812.2 L291.0,817.3 L292.0,822.2 L293.0,826.9 L294.0,831.4 L295.0,835.6 L296.0,839.6 L297.0,843.3 L298.0,846.7 L299.0,849.9 L300.0,852.7 L301.0,855.2 L302.0,857.5 L303.0,859.3 L304.0,860.9 L305.0,862.1 L306.0,863.0 L307.0,863.5 L308.0,863.7 L309.0,863.6 L310.0,863.1 L311.0,862.2 L312.0,861.0 L313.0,859.5 L314.0,857.7 L315.0,855.5 L316.0,853.0 L317.0,850.2 L318.0,847.1 L319.0,843.6 L320.0,840.0 L321.0,836.0 L322.0,831.8 L323.0,827.4 L324.0,822.7 L325.0,817.8 L326.0,812.7 L327.0,807.4 L328.0,802.0 L329.0,796.4 L330.0,790.7 L331.0,784.9 L332.0,779.0 L333.0,773.1 L334.0,767.0 L335.0,761.0 L336.0,754.9 L337.0,748.9 L338.0,742.8 L339.0,736.9 L340.0,731.0 L341.0,725.1 L342.0,719.4 L343.0,713.8 L344.0,708.4 L345.0,703.1 L346.0,698.0 L347.0,693.0 L348.0,688.3 L349.0,683.9 L350.0,679.6 L351.0,675.6 L352.0,671.9 L353.0,668.4 L354.0,665.3 L355.0,662.4 L356.0,659.9 L357.0,657.7 L358.0,655.7 L359.0,654.2 L360.0,652.9 L361.0,652.0 L362.0,651.5 L363.0,651.3 L364.0,651.4 L365.0,651.9 L366.0,652.7 L367.0,653.9 L368.0,655.4 L369.0,657.2 L370.0,659.4 L371.0,661.9 L372.0,664.7 L373.0,667.8 L374.0,671.2 L375.0,674.8 L376.0,678.8 L377.0,683.0 L378.0,687.4 L379.0,692.1 L380.0,697.0 L381.0,702.0 L382.0,707.3 L383.0,712.7 L384.0,718.3 L385.0,724.0 L386.0,729.8 L387.0,735.7 L388.0,741.6 L389.0,747.7 L390.0,753.7 L391.0,759.8 L392.0,765.8 L393.0,771.9 L394.0,777.8 L395.0,783.7 L396.0,789.6 L397.0,795.3 L398.0,800.9 L399.0,806.4 L400.0,811.7 L401.0,816.8 L402.0,821.7 L403.0,826.4 L404.0,830.9 L405.0,835.2 L406.0,839.2 L407.0,842.9 L408.0,846.4 L409.0,849.6 L410.0,852.4 L411.0,855.0 L412.0,857.2 L413.0,859.2 L414.0,860.8 L415.0,862.0 L416.0,862.9 L417.0,863.5 L418.0,863.7 L419.0,863.6 L420.0,863.1 L421.0,862.3 L422.0,861.2 L423.0,859.7 L424.0,857.9 L425.0,855.7 L426.0,853.2 L427.0,850.5 L428.0,847.4 L429.0,844.0 L430.0,840.3 L431.0,836.4 L432.0,832.2 L433.0,827.8 L434.0,823.2 L435.0,818.3 L436.0,813.2 L437.0,808.0 L438.0,802.6 L439.0,797.0 L440.0,791.3 L441.0,785.5 L442.0,779.6 L443.0,773.7 L444.0,767.6 L445.0,761.6 L446.0,755.5 L447.0,749.5 L448.0,743.4 L449.0,737.5 L450.0,731.5 L451.0,725.7 L452.0,720.0 L453.0,714.4 L454.0,708.9 L455.0,703.6 L456.0,698.5 L457.0,693.5 L458.0,688.8 L459.0,684.3 L460.0,680.0 L461.0,676.0 L462.0,672.2 L463.0,668.8 L464.0,665.6 L465.0,662.7 L466.0,660.1 L467.0,657.9 L468.0,655.9 L469.0,654.3 L470.0,653.0 L471.0,652.1 L472.0,651.5 L473.0,651.3 L474.0,651.4 L475.0,651.8 L476.0,652.6 L477.0,653.8 L478.0,655.2 L479.0,657.0 L480.0,659.2 L481.0,661.6 L482.0,664.4 L483.0,667.5 L484.0,670.8 L485.0,674.5 L486.0,678.4 L487.0,682.6 L488.0,687.0 L489.0,691.6 L490.0,696.5 L491.0,701.5 L492.0,706.8 L493.0,712.2 L494.0,717.7 L495.0,723.4 L496.0,729.2 L497.0,735.1 L498.0,741.0 L499.0,747.1 L500.0,753.1 L501.0,759.2 L502.0,765.2 L503.0,771.3 L504.0,777.2 L505.0,783.2 L506.0,789.0 L507.0,794.7 L508.0,800.3 L509.0,805.8 L510.0,811.1 L511.0,816.3 L512.0,821.2 L513.0,826.0 L514.0,830.5 L515.0,834.8 L516.0,838.8 L517.0,842.6 L518.0,846.1 L519.0,849.3 L520.0,852.2 L521.0,854.8 L522.0,857.0 L523.0,859.0 L524.0,860.6 L525.0,861.9 L526.0,862.8 L527.0,863.4 L528.0,863.7 L529.0,863.6 L530.0,863.2 L531.0,862.4 L532.0,861.3 L533.0,859.8 L534.0,858.1 L535.0,855.9 L536.0,853.5 L537.0,850.8 L538.0,847.7 L539.0,844.4 L540.0,840.7 L541.0,836.8 L542.0,832.7 L543.0,828.3 L544.0,823.6 L545.0,818.8 L546.0,813.7 L547.0,808.5 L548.0,803.1 L549.0,797.6 L550.0,791.9 L551.0,786.1 L552.0,780.2 L553.0,774.3 L554.0,768.2 L555.0,762.2 L556.0,756.1 L557.0,750.1 L558.0,744.0 L559.0,738.1 L560.0,732.1 L561.0,726.3 L562.0,720.6 L563.0,714.9 L564.0,709.5 L565.0,704.1 L566.0,699.0 L567.0,694.0 L568.0,689.3 L569.0,684.7 L570.0,680.4 L571.0,676.4 L572.0,672.6 L573.0,669.1 L574.0,665.9 L575.0,663.0 L576.0,660.4 L577.0,658.1 L578.0,656.1 L579.0,654.5 L580.0,653.2 L581.0,652.2 L582.0,651.6 L583.0,651.3 L584.0,651.4 L585.0,651.8 L586.0,652.5 L587.0,653.6 L588.0,655.1 L589.0,656.9 L590.0,659.0 L591.0,661.4 L592.0,664.1 L593.0,667.1 L594.0,670.5 L595.0,674.1 L596.0,678.0 L597.0,682.1 L598.0,686.5 L599.0,691.1 L600.0,696.0 L601.0,701.0 L602.0,706.2 L603.0,711.6 L604.0,717.2 L605.0,722.8 L606.0,728.6 L607.0,734.5 L608.0,740.4 L609.0,746.5 L610.0,752.5 L611.0,758.6 L612.0,764.6 L613.0,770.7 L614.0,776.6 L615.0,782.6 L616.0,788.4 L617.0,794.2 L618.0,799.8 L619.0,805.3 L620.0,810.6 L621.0,815.8 L622.0,820.7 L623.0,825.5 L624.0,830.0 L625.0,834.4 L626.0,838.4 L627.0,842.2 L628.0,845.7 L629.0,849.0 L630.0,851.9 L631.0,854.5 L632.0,856.8 L633.0,858.8 L634.0,860.5 L635.0,861.8 L636.0,862.8 L637.0,863.4 L638.0,863.7 L639.0,863.6" fill="none" stroke="#ff0000" stroke-width="3.4"/>
<path d="M218.0,781.9 L219.0,775.8 L220.0,769.7 L221.0,763.5 L222.0,757.3 L223.0,751.2 L224.0,745.0 L225.0,738.9 L226.0,732.8 L227.0,726.8 L228.0,720.9 L229.0,715.2 L230.0,709.5 L231.0,704.1 L232.0,698.8 L233.0,693.7 L234.0,688.8 L235.0,684.1 L236.0,679.7 L237.0,675.5 L238.0,671.6 L239.0,667.9 L240.0,664.6 L241.0,661.5 L242.0,658.8 L243.0,656.4 L244.0,654.3 L245.0,652.6 L246.0,651.2 L247.0,650.1 L248.0,649.4 L249.0,649.1 L250.0,649.1 L251.0,649.4 L252.0,650.1 L253.0,651.2 L254.0,652.6 L255.0,654.3 L256.0,656.4 L257.0,658.8 L258.0,661.5 L259.0,664.6 L260.0,667.9 L261.0,671.6 L262.0,675.5 L263.0,679.7 L264.0,684.1 L265.0,688.8 L266.0,693.7 L267.0,698.8 L268.0,704.1 L269.0,709.5 L270.0,715.2 L271.0,720.9 L272.0,726.8 L273.0,732.8 L274.0,738.9 L275.0,745.0 L276.0,751.2 L277.0,757.3 L278.0,763.5 L279.0,769.7 L280.0,775.8 L281.0,781.9 L282.0,787.9 L283.0,793.8 L284.0,799.5 L285.0,805.2 L286.0,810.7 L287.0,816.0 L288.0,821.1 L289.0,826.0 L290.0,830.7 L291.0,835.1 L292.0,839.3 L293.0,843.3 L294.0,846.9 L295.0,850.3 L296.0,853.3 L297.0,856.1 L298.0,858.5 L299.0,860.6 L300.0,862.3 L301.0,863.8 L302.0,864.8 L303.0,865.6 L304.0,865.9 L305.0,865.9 L306.0,865.6 L307.0,864.9 L308.0,863.9 L309.0,862.5 L310.0,860.8 L311.0,858.7 L312.0,856.3 L313.0,853.6 L314.0,850.6 L315.0,847.3 L316.0,843.6 L317.0,839.7 L318.0,835.6 L319.0,831.1 L320.0,826.5 L321.0,821.6 L322.0,816.5 L323.0,811.2 L324.0,805.7 L325.0,800.1 L326.0,794.4 L327.0,788.5 L328.0,782.5 L329.0,776.4 L330.0,770.3 L331.0,764.2 L332.0,758.0 L333.0,751.8 L334.0,745.6 L335.0,739.5 L336.0,733.4 L337.0,727.4 L338.0,721.5 L339.0,715.7 L340.0,710.1 L341.0,704.6 L342.0,699.3 L343.0,694.2 L344.0,689.2 L345.0,684.5 L346.0,680.1 L347.0,675.9 L348.0,671.9 L349.0,668.3 L350.0,664.9 L351.0,661.8 L352.0,659.1 L353.0,656.6 L354.0,654.5 L355.0,652.7 L356.0,651.3 L357.0,650.2 L358.0,649.5 L359.0,649.1 L360.0,649.0 L361.0,649.4 L362.0,650.0 L363.0,651.1 L364.0,652.4 L365.0,654.1 L366.0,656.2 L367.0,658.6 L368.0,661.2 L369.0,664.3 L370.0,667.6 L371.0,671.2 L372.0,675.1 L373.0,679.2 L374.0,683.6 L375.0,688.3 L376.0,693.2 L377.0,698.2 L378.0,703.5 L379.0,709.0 L380.0,714.6 L381.0,720.3 L382.0,726.2 L383.0,732.2 L384.0,738.3 L385.0,744.4 L386.0,750.5 L387.0,756.7 L388.0,762.9 L389.0,769.1 L390.0,775.2 L391.0,781.3 L392.0,787.3 L393.0,793.2 L394.0,799.0 L395.0,804.6 L396.0,810.1 L397.0,815.4 L398.0,820.6 L399.0,825.5 L400.0,830.2 L401.0,834.7 L402.0,838.9 L403.0,842.9 L404.0,846.6 L405.0,849.9 L406.0,853.0 L407.0,855.8 L408.0,858.3 L409.0,860.4 L410.0,862.2 L411.0,863.6 L412.0,864.7 L413.0,865.5 L414.0,865.9 L415.0,866.0 L416.0,865.7 L417.0,865.0 L418.0,864.0 L419.0,862.7 L420.0,861.0 L421.0,858.9 L422.0,856.6 L423.0,853.9 L424.0,850.9 L425.0,847.6 L426.0,844.0 L427.0,840.1 L428.0,836.0 L429.0,831.6 L430.0,827.0 L431.0,822.1 L432.0,817.0 L433.0,811.7 L434.0,806.3 L435.0,800.7 L436.0,794.9 L437.0,789.1 L438.0,783.1 L439.0,777.0 L440.0,770.9 L441.0,764.8 L442.0,758.6 L443.0,752.4 L444.0,746.2 L445.0,740.1 L446.0,734.0 L447.0,728.0 L448.0,722.1 L449.0,716.3 L450.0,710.7 L451.0,705.1 L452.0,699.8 L453.0,694.7 L454.0,689.7 L455.0,685.0 L456.0,680.5 L457.0,676.3 L458.0,672.3 L459.0,668.6 L460.0,665.2 L461.0,662.1 L462.0,659.3 L463.0,656.9 L464.0,654.7 L465.0,652.9 L466.0,651.4 L467.0,650.3 L468.0,649.5 L469.0,649.1 L470.0,649.0 L471.0,649.3 L472.0,650.0 L473.0,650.9 L474.0,652.3 L475.0,653.9 L476.0,656.0 L477.0,658.3 L478.0,661.0 L479.0,663.9 L480.0,667.2 L481.0,670.8 L482.0,674.7 L483.0,678.8 L484.0,683.2 L485.0,687.8 L486.0,692.7 L487.0,697.7 L488.0,703.0 L489.0,708.4 L490.0,714.0 L491.0,719.8 L492.0,725.6 L493.0,731.6 L494.0,737.6 L495.0,743.8 L496.0,749.9 L497.0,756.1 L498.0,762.3 L499.0,768.5 L500.0,774.6 L501.0,780.7 L502.0,786.7 L503.0,792.6 L504.0,798.4 L505.0,804.1 L506.0,809.6 L507.0,814.9 L508.0,820.1 L509.0,825.0 L510.0,829.8 L511.0,834.3 L512.0,838.5 L513.0,842.5 L514.0,846.2 L515.0,849.6 L516.0,852.7 L517.0,855.5 L518.0,858.0 L519.0,860.2 L520.0,862.0 L521.0,863.5 L522.0,864.6 L523.0,865.4 L524.0,865.9 L525.0,866.0 L526.0,865.7 L527.0,865.1 L528.0,864.1 L529.0,862.8 L530.0,861.1 L531.0,859.2 L532.0,856.8 L533.0,854.2 L534.0,851.2 L535.0,847.9 L536.0,844.4 L537.0,840.5 L538.0,836.4 L539.0,832.0 L540.0,827.4 L541.0,822.6 L542.0,817.5 L543.0,812.3 L544.0,806.8 L545.0,801.3 L546.0,795.5 L547.0,789.7 L548.0,783.7 L549.0,777.7 L550.0,771.5 L551.0,765.4 L552.0,759.2 L553.0,753.0 L554.0,746.8 L555.0,740.7 L556.0,734.6 L557.0,728.6 L558.0,722.7 L559.0,716.9 L560.0,711.2 L561.0,705.7 L562.0,700.3 L563.0,695.2 L564.0,690.2 L565.0,685.5 L566.0,681.0 L567.0,676.7 L568.0,672.7 L569.0,669.0 L570.0,665.5 L571.0,662.4 L572.0,659.6 L573.0,657.1 L574.0,654.9 L575.0,653.1 L576.0,651.6 L577.0,650.4 L578.0,649.6 L579.0,649.1 L580.0,649.0 L581.0,649.3 L582.0,649.9 L583.0,650.8 L584.0,652.1 L585.0,653.8 L586.0,655.7 L587.0,658.0 L588.0,660.7 L589.0,663.6 L590.0,666.9 L591.0,670.4 L592.0,674.3 L593.0,678.4 L594.0,682.7 L595.0,687.3 L596.0,692.2 L597.0,697.2 L598.0,702.5 L599.0,707.9 L600.0,713.5 L601.0,719.2 L602.0,725.0 L603.0,731.0 L604.0,737.0 L605.0,743.1 L606.0,749.3 L607.0,755.5 L608.0,761.7 L609.0,767.9 L610.0,774.0 L611.0,780.1 L612.0,786.1 L613.0,792.0 L614.0,797.8 L615.0,803.5 L616.0,809.0 L617.0,814.4 L618.0,819.6 L619.0,824.5 L620.0,829.3 L621.0,833.8 L622.0,838.1 L623.0,842.1 L624.0,845.8 L625.0,849.3 L626.0,852.4 L627.0,855.3 L628.0,857.8 L629.0,860.0 L630.0,861.9 L631.0,863.4 L632.0,864.5 L633.0,865.4 L634.0,865.9 L635.0,866.0 L636.0,865.7 L637.0,865.2 L638.0,864.2 L639.0,863.0" fill="none" stroke="#6ba717" stroke-width="3.4"/>
</g>
<rect x="218" y="576.5" width="421.5" height="362.0" fill="none" stroke="#222" stroke-width="1.9"/>
<line x1="218" y1="893.2" x2="221" y2="893.2" stroke="#222" stroke-width="1.6"/>
<line x1="218" y1="848.0" x2="224" y2="848.0" stroke="#222" stroke-width="1.6"/>
<line x1="218" y1="802.8" x2="221" y2="802.8" stroke="#222" stroke-width="1.6"/>
<line x1="218" y1="757.5" x2="224" y2="757.5" stroke="#222" stroke-width="1.6"/>
<line x1="218" y1="712.2" x2="221" y2="712.2" stroke="#222" stroke-width="1.6"/>
<line x1="218" y1="667.0" x2="224" y2="667.0" stroke="#222" stroke-width="1.6"/>
<line x1="218" y1="621.8" x2="221" y2="621.8" stroke="#222" stroke-width="1.6"/>
<line x1="323.4" y1="938.5" x2="323.4" y2="935.0" stroke="#222" stroke-width="1.6"/>
<line x1="428.8" y1="938.5" x2="428.8" y2="931.5" stroke="#222" stroke-width="1.6"/>
<line x1="534.1" y1="938.5" x2="534.1" y2="935.0" stroke="#222" stroke-width="1.6"/>
<text transform="translate(210.2,582.0) scale(0.86,1)" text-anchor="end" class="il">8</text>
<text transform="translate(210.2,672.5) scale(0.86,1)" text-anchor="end" class="il">4</text>
<text transform="translate(210.2,763.0) scale(0.86,1)" text-anchor="end" class="il">0</text>
<text transform="translate(210.2,853.5) scale(0.86,1)" text-anchor="end" class="il">-4</text>
<text transform="translate(210.2,944.0) scale(0.86,1)" text-anchor="end" class="il">-8</text>
<text transform="translate(218.0,962.0) scale(0.9,1)" text-anchor="middle" class="il">60.0</text>
<text transform="translate(428.8,962.0) scale(0.9,1)" text-anchor="middle" class="il">60.2</text>
<text transform="translate(639.5,962.0) scale(0.9,1)" text-anchor="middle" class="il">60.4</text>
<text x="249" y="645" class="pl">(a)</text>
<rect x="704.5" y="575.5" width="422.79999999999995" height="362.5" fill="#fff"/>
<g clip-path="url(#cb)">
<path d="M704.5,755.5 L705.5,755.9 L706.5,756.2 L707.5,756.5 L708.5,756.8 L709.5,757.1 L710.5,757.4 L711.5,757.7 L712.5,758.0 L713.5,758.3 L714.5,758.6 L715.5,758.9 L716.5,759.2 L717.5,759.5 L718.5,759.7 L719.5,760.0 L720.5,760.2 L721.5,760.4 L722.5,760.6 L723.5,760.8 L724.5,761.0 L725.5,761.1 L726.5,761.3 L727.5,761.4 L728.5,761.5 L729.5,761.6 L730.5,761.6 L731.5,761.7 L732.5,761.7 L733.5,761.7 L734.5,761.7 L735.5,761.7 L736.5,761.6 L737.5,761.5 L738.5,761.5 L739.5,761.3 L740.5,761.2 L741.5,761.1 L742.5,760.9 L743.5,760.7 L744.5,760.5 L745.5,760.3 L746.5,760.1 L747.5,759.8 L748.5,759.6 L749.5,759.3 L750.5,759.1 L751.5,758.8 L752.5,758.5 L753.5,758.2 L754.5,757.9 L755.5,757.6 L756.5,757.3 L757.5,756.9 L758.5,756.6 L759.5,756.3 L760.5,756.0 L761.5,755.7 L762.5,755.4 L763.5,755.1 L764.5,754.8 L765.5,754.5 L766.5,754.2 L767.5,754.0 L768.5,753.7 L769.5,753.5 L770.5,753.2 L771.5,753.0 L772.5,752.8 L773.5,752.6 L774.5,752.5 L775.5,752.3 L776.5,752.2 L777.5,752.1 L778.5,752.0 L779.5,751.9 L780.5,751.8 L781.5,751.8 L782.5,751.8 L783.5,751.8 L784.5,751.8 L785.5,751.8 L786.5,751.9 L787.5,752.0 L788.5,752.1 L789.5,752.2 L790.5,752.3 L791.5,752.5 L792.5,752.6 L793.5,752.8 L794.5,753.0 L795.5,753.2 L796.5,753.5 L797.5,753.7 L798.5,754.0 L799.5,754.2 L800.5,754.5 L801.5,754.8 L802.5,755.1 L803.5,755.4 L804.5,755.7 L805.5,756.0 L806.5,756.3 L807.5,756.6 L808.5,756.9 L809.5,757.3 L810.5,757.6 L811.5,757.9 L812.5,758.2 L813.5,758.5 L814.5,758.8 L815.5,759.1 L816.5,759.3 L817.5,759.6 L818.5,759.8 L819.5,760.1 L820.5,760.3 L821.5,760.5 L822.5,760.7 L823.5,760.9 L824.5,761.1 L825.5,761.2 L826.5,761.3 L827.5,761.5 L828.5,761.5 L829.5,761.6 L830.5,761.7 L831.5,761.7 L832.5,761.7 L833.5,761.7 L834.5,761.7 L835.5,761.6 L836.5,761.6 L837.5,761.5 L838.5,761.4 L839.5,761.3 L840.5,761.1 L841.5,761.0 L842.5,760.8 L843.5,760.6 L844.5,760.4 L845.5,760.2 L846.5,760.0 L847.5,759.7 L848.5,759.5 L849.5,759.2 L850.5,758.9 L851.5,758.6 L852.5,758.3 L853.5,758.0 L854.5,757.7 L855.5,757.4 L856.5,757.1 L857.5,756.8 L858.5,756.5 L859.5,756.2 L860.5,755.9 L861.5,755.5 L862.5,755.2 L863.5,754.9 L864.5,754.7 L865.5,754.4 L866.5,754.1 L867.5,753.8 L868.5,753.6 L869.5,753.4 L870.5,753.1 L871.5,752.9 L872.5,752.7 L873.5,752.6 L874.5,752.4 L875.5,752.3 L876.5,752.1 L877.5,752.0 L878.5,751.9 L879.5,751.9 L880.5,751.8 L881.5,751.8 L882.5,751.8 L883.5,751.8 L884.5,751.8 L885.5,751.9 L886.5,751.9 L887.5,752.0 L888.5,752.1 L889.5,752.3 L890.5,752.4 L891.5,752.6 L892.5,752.7 L893.5,752.9 L894.5,753.1 L895.5,753.4 L896.5,753.6 L897.5,753.8 L898.5,754.1 L899.5,754.4 L900.5,754.7 L901.5,754.9 L902.5,755.2 L903.5,755.5 L904.5,755.9 L905.5,756.2 L906.5,756.5 L907.5,756.8 L908.5,757.1 L909.5,757.4 L910.5,757.7 L911.5,758.0 L912.5,758.3 L913.5,758.6 L914.5,758.9 L915.5,759.2 L916.5,759.5 L917.5,759.7 L918.5,760.0 L919.5,760.2 L920.5,760.4 L921.5,760.6 L922.5,760.8 L923.5,761.0 L924.5,761.1 L925.5,761.3 L926.5,761.4 L927.5,761.5 L928.5,761.6 L929.5,761.6 L930.5,761.7 L931.5,761.7 L932.5,761.7 L933.5,761.7 L934.5,761.7 L935.5,761.6 L936.5,761.5 L937.5,761.5 L938.5,761.3 L939.5,761.2 L940.5,761.1 L941.5,760.9 L942.5,760.7 L943.5,760.5 L944.5,760.3 L945.5,760.1 L946.5,759.8 L947.5,759.6 L948.5,759.3 L949.5,759.1 L950.5,758.8 L951.5,758.5 L952.5,758.2 L953.5,757.9 L954.5,757.6 L955.5,757.3 L956.5,756.9 L957.5,756.6 L958.5,756.3 L959.5,756.0 L960.5,755.7 L961.5,755.4 L962.5,755.1 L963.5,754.8 L964.5,754.5 L965.5,754.2 L966.5,754.0 L967.5,753.7 L968.5,753.5 L969.5,753.2 L970.5,753.0 L971.5,752.8 L972.5,752.6 L973.5,752.5 L974.5,752.3 L975.5,752.2 L976.5,752.1 L977.5,752.0 L978.5,751.9 L979.5,751.8 L980.5,751.8 L981.5,751.8 L982.5,751.8 L983.5,751.8 L984.5,751.8 L985.5,751.9 L986.5,752.0 L987.5,752.1 L988.5,752.2 L989.5,752.3 L990.5,752.5 L991.5,752.6 L992.5,752.8 L993.5,753.0 L994.5,753.2 L995.5,753.5 L996.5,753.7 L997.5,754.0 L998.5,754.2 L999.5,754.5 L1000.5,754.8 L1001.5,755.1 L1002.5,755.4 L1003.5,755.7 L1004.5,756.0 L1005.5,756.3 L1006.5,756.6 L1007.5,756.9 L1008.5,757.3 L1009.5,757.6 L1010.5,757.9 L1011.5,758.2 L1012.5,758.5 L1013.5,758.8 L1014.5,759.1 L1015.5,759.3 L1016.5,759.6 L1017.5,759.8 L1018.5,760.1 L1019.5,760.3 L1020.5,760.5 L1021.5,760.7 L1022.5,760.9 L1023.5,761.1 L1024.5,761.2 L1025.5,761.3 L1026.5,761.5 L1027.5,761.5 L1028.5,761.6 L1029.5,761.7 L1030.5,761.7 L1031.5,761.7 L1032.5,761.7 L1033.5,761.7 L1034.5,761.6 L1035.5,761.6 L1036.5,761.5 L1037.5,761.4 L1038.5,761.3 L1039.5,761.1 L1040.5,761.0 L1041.5,760.8 L1042.5,760.6 L1043.5,760.4 L1044.5,760.2 L1045.5,760.0 L1046.5,759.7 L1047.5,759.5 L1048.5,759.2 L1049.5,758.9 L1050.5,758.6 L1051.5,758.3 L1052.5,758.0 L1053.5,757.7 L1054.5,757.4 L1055.5,757.1 L1056.5,756.8 L1057.5,756.5 L1058.5,756.2 L1059.5,755.9 L1060.5,755.5 L1061.5,755.2 L1062.5,754.9 L1063.5,754.7 L1064.5,754.4 L1065.5,754.1 L1066.5,753.8 L1067.5,753.6 L1068.5,753.4 L1069.5,753.1 L1070.5,752.9 L1071.5,752.7 L1072.5,752.6 L1073.5,752.4 L1074.5,752.3 L1075.5,752.1 L1076.5,752.0 L1077.5,751.9 L1078.5,751.9 L1079.5,751.8 L1080.5,751.8 L1081.5,751.8 L1082.5,751.8 L1083.5,751.8 L1084.5,751.9 L1085.5,751.9 L1086.5,752.0 L1087.5,752.1 L1088.5,752.3 L1089.5,752.4 L1090.5,752.6 L1091.5,752.7 L1092.5,752.9 L1093.5,753.1 L1094.5,753.4 L1095.5,753.6 L1096.5,753.8 L1097.5,754.1 L1098.5,754.4 L1099.5,754.7 L1100.5,754.9 L1101.5,755.2 L1102.5,755.5 L1103.5,755.9 L1104.5,756.2 L1105.5,756.5 L1106.5,756.8 L1107.5,757.1 L1108.5,757.4 L1109.5,757.7 L1110.5,758.0 L1111.5,758.3 L1112.5,758.6 L1113.5,758.9 L1114.5,759.2 L1115.5,759.5 L1116.5,759.7 L1117.5,760.0 L1118.5,760.2 L1119.5,760.4 L1120.5,760.6 L1121.5,760.8 L1122.5,761.0 L1123.5,761.1 L1124.5,761.3 L1125.5,761.4 L1126.5,761.5" fill="none" stroke="#000" stroke-width="3"/>
<path d="M704.5,717.2 L705.5,720.1 L706.5,723.1 L707.5,726.2 L708.5,729.4 L709.5,732.8 L710.5,736.2 L711.5,739.7 L712.5,743.3 L713.5,746.9 L714.5,750.6 L715.5,754.2 L716.5,757.9 L717.5,761.6 L718.5,765.2 L719.5,768.9 L720.5,772.4 L721.5,775.9 L722.5,779.3 L723.5,782.6 L724.5,785.8 L725.5,788.9 L726.5,791.9 L727.5,794.7 L728.5,797.3 L729.5,799.8 L730.5,802.1 L731.5,804.3 L732.5,806.2 L733.5,807.9 L734.5,809.4 L735.5,810.8 L736.5,811.8 L737.5,812.7 L738.5,813.3 L739.5,813.7 L740.5,813.9 L741.5,813.9 L742.5,813.6 L743.5,813.1 L744.5,812.3 L745.5,811.3 L746.5,810.1 L747.5,808.7 L748.5,807.1 L749.5,805.3 L750.5,803.2 L751.5,801.0 L752.5,798.6 L753.5,796.0 L754.5,793.3 L755.5,790.4 L756.5,787.4 L757.5,784.2 L758.5,781.0 L759.5,777.6 L760.5,774.2 L761.5,770.6 L762.5,767.1 L763.5,763.4 L764.5,759.8 L765.5,756.1 L766.5,752.4 L767.5,748.7 L768.5,745.1 L769.5,741.5 L770.5,738.0 L771.5,734.5 L772.5,731.1 L773.5,727.8 L774.5,724.6 L775.5,721.6 L776.5,718.7 L777.5,715.9 L778.5,713.3 L779.5,710.8 L780.5,708.6 L781.5,706.5 L782.5,704.6 L783.5,702.9 L784.5,701.4 L785.5,700.2 L786.5,699.2 L787.5,698.4 L788.5,697.8 L789.5,697.4 L790.5,697.3 L791.5,697.4 L792.5,697.8 L793.5,698.4 L794.5,699.2 L795.5,700.2 L796.5,701.4 L797.5,702.9 L798.5,704.6 L799.5,706.5 L800.5,708.6 L801.5,710.8 L802.5,713.3 L803.5,715.9 L804.5,718.7 L805.5,721.6 L806.5,724.6 L807.5,727.8 L808.5,731.1 L809.5,734.5 L810.5,738.0 L811.5,741.5 L812.5,745.1 L813.5,748.7 L814.5,752.4 L815.5,756.1 L816.5,759.8 L817.5,763.4 L818.5,767.1 L819.5,770.6 L820.5,774.2 L821.5,777.6 L822.5,781.0 L823.5,784.2 L824.5,787.4 L825.5,790.4 L826.5,793.3 L827.5,796.0 L828.5,798.6 L829.5,801.0 L830.5,803.2 L831.5,805.3 L832.5,807.1 L833.5,808.7 L834.5,810.1 L835.5,811.3 L836.5,812.3 L837.5,813.1 L838.5,813.6 L839.5,813.9 L840.5,813.9 L841.5,813.7 L842.5,813.3 L843.5,812.7 L844.5,811.8 L845.5,810.8 L846.5,809.4 L847.5,807.9 L848.5,806.2 L849.5,804.3 L850.5,802.1 L851.5,799.8 L852.5,797.3 L853.5,794.7 L854.5,791.9 L855.5,788.9 L856.5,785.8 L857.5,782.6 L858.5,779.3 L859.5,775.9 L860.5,772.4 L861.5,768.9 L862.5,765.2 L863.5,761.6 L864.5,757.9 L865.5,754.2 L866.5,750.6 L867.5,746.9 L868.5,743.3 L869.5,739.7 L870.5,736.2 L871.5,732.8 L872.5,729.4 L873.5,726.2 L874.5,723.1 L875.5,720.1 L876.5,717.2 L877.5,714.6 L878.5,712.0 L879.5,709.7 L880.5,707.5 L881.5,705.5 L882.5,703.7 L883.5,702.2 L884.5,700.8 L885.5,699.7 L886.5,698.7 L887.5,698.0 L888.5,697.6 L889.5,697.3 L890.5,697.3 L891.5,697.6 L892.5,698.0 L893.5,698.7 L894.5,699.7 L895.5,700.8 L896.5,702.2 L897.5,703.7 L898.5,705.5 L899.5,707.5 L900.5,709.7 L901.5,712.0 L902.5,714.6 L903.5,717.2 L904.5,720.1 L905.5,723.1 L906.5,726.2 L907.5,729.4 L908.5,732.8 L909.5,736.2 L910.5,739.7 L911.5,743.3 L912.5,746.9 L913.5,750.6 L914.5,754.2 L915.5,757.9 L916.5,761.6 L917.5,765.2 L918.5,768.9 L919.5,772.4 L920.5,775.9 L921.5,779.3 L922.5,782.6 L923.5,785.8 L924.5,788.9 L925.5,791.9 L926.5,794.7 L927.5,797.3 L928.5,799.8 L929.5,802.1 L930.5,804.3 L931.5,806.2 L932.5,807.9 L933.5,809.4 L934.5,810.8 L935.5,811.8 L936.5,812.7 L937.5,813.3 L938.5,813.7 L939.5,813.9 L940.5,813.9 L941.5,813.6 L942.5,813.1 L943.5,812.3 L944.5,811.3 L945.5,810.1 L946.5,808.7 L947.5,807.1 L948.5,805.3 L949.5,803.2 L950.5,801.0 L951.5,798.6 L952.5,796.0 L953.5,793.3 L954.5,790.4 L955.5,787.4 L956.5,784.2 L957.5,781.0 L958.5,777.6 L959.5,774.2 L960.5,770.6 L961.5,767.1 L962.5,763.4 L963.5,759.8 L964.5,756.1 L965.5,752.4 L966.5,748.7 L967.5,745.1 L968.5,741.5 L969.5,738.0 L970.5,734.5 L971.5,731.1 L972.5,727.8 L973.5,724.6 L974.5,721.6 L975.5,718.7 L976.5,715.9 L977.5,713.3 L978.5,710.8 L979.5,708.6 L980.5,706.5 L981.5,704.6 L982.5,702.9 L983.5,701.4 L984.5,700.2 L985.5,699.2 L986.5,698.4 L987.5,697.8 L988.5,697.4 L989.5,697.3 L990.5,697.4 L991.5,697.8 L992.5,698.4 L993.5,699.2 L994.5,700.2 L995.5,701.4 L996.5,702.9 L997.5,704.6 L998.5,706.5 L999.5,708.6 L1000.5,710.8 L1001.5,713.3 L1002.5,715.9 L1003.5,718.7 L1004.5,721.6 L1005.5,724.6 L1006.5,727.8 L1007.5,731.1 L1008.5,734.5 L1009.5,738.0 L1010.5,741.5 L1011.5,745.1 L1012.5,748.7 L1013.5,752.4 L1014.5,756.1 L1015.5,759.8 L1016.5,763.4 L1017.5,767.1 L1018.5,770.6 L1019.5,774.2 L1020.5,777.6 L1021.5,781.0 L1022.5,784.2 L1023.5,787.4 L1024.5,790.4 L1025.5,793.3 L1026.5,796.0 L1027.5,798.6 L1028.5,801.0 L1029.5,803.2 L1030.5,805.3 L1031.5,807.1 L1032.5,808.7 L1033.5,810.1 L1034.5,811.3 L1035.5,812.3 L1036.5,813.1 L1037.5,813.6 L1038.5,813.9 L1039.5,813.9 L1040.5,813.7 L1041.5,813.3 L1042.5,812.7 L1043.5,811.8 L1044.5,810.8 L1045.5,809.4 L1046.5,807.9 L1047.5,806.2 L1048.5,804.3 L1049.5,802.1 L1050.5,799.8 L1051.5,797.3 L1052.5,794.7 L1053.5,791.9 L1054.5,788.9 L1055.5,785.8 L1056.5,782.6 L1057.5,779.3 L1058.5,775.9 L1059.5,772.4 L1060.5,768.9 L1061.5,765.2 L1062.5,761.6 L1063.5,757.9 L1064.5,754.2 L1065.5,750.6 L1066.5,746.9 L1067.5,743.3 L1068.5,739.7 L1069.5,736.2 L1070.5,732.8 L1071.5,729.4 L1072.5,726.2 L1073.5,723.1 L1074.5,720.1 L1075.5,717.2 L1076.5,714.6 L1077.5,712.0 L1078.5,709.7 L1079.5,707.5 L1080.5,705.5 L1081.5,703.7 L1082.5,702.2 L1083.5,700.8 L1084.5,699.7 L1085.5,698.7 L1086.5,698.0 L1087.5,697.6 L1088.5,697.3 L1089.5,697.3 L1090.5,697.6 L1091.5,698.0 L1092.5,698.7 L1093.5,699.7 L1094.5,700.8 L1095.5,702.2 L1096.5,703.7 L1097.5,705.5 L1098.5,707.5 L1099.5,709.7 L1100.5,712.0 L1101.5,714.6 L1102.5,717.2 L1103.5,720.1 L1104.5,723.1 L1105.5,726.2 L1106.5,729.4 L1107.5,732.8 L1108.5,736.2 L1109.5,739.7 L1110.5,743.3 L1111.5,746.9 L1112.5,750.6 L1113.5,754.2 L1114.5,757.9 L1115.5,761.6 L1116.5,765.2 L1117.5,768.9 L1118.5,772.4 L1119.5,775.9 L1120.5,779.3 L1121.5,782.6 L1122.5,785.8 L1123.5,788.9 L1124.5,791.9 L1125.5,794.7 L1126.5,797.3" fill="none" stroke="#ff0000" stroke-width="3"/>
<path d="M704.5,782.3 L705.5,778.4 L706.5,774.3 L707.5,770.2 L708.5,766.1 L709.5,761.9 L710.5,757.7 L711.5,753.5 L712.5,749.3 L713.5,745.1 L714.5,741.0 L715.5,737.0 L716.5,733.0 L717.5,729.1 L718.5,725.3 L719.5,721.7 L720.5,718.2 L721.5,714.8 L722.5,711.6 L723.5,708.6 L724.5,705.8 L725.5,703.2 L726.5,700.8 L727.5,698.6 L728.5,696.7 L729.5,695.0 L730.5,693.5 L731.5,692.3 L732.5,691.4 L733.5,690.7 L734.5,690.2 L735.5,690.1 L736.5,690.2 L737.5,690.6 L738.5,691.2 L739.5,692.1 L740.5,693.2 L741.5,694.7 L742.5,696.3 L743.5,698.2 L744.5,700.3 L745.5,702.7 L746.5,705.3 L747.5,708.0 L748.5,711.0 L749.5,714.2 L750.5,717.5 L751.5,721.0 L752.5,724.6 L753.5,728.3 L754.5,732.2 L755.5,736.1 L756.5,740.2 L757.5,744.3 L758.5,748.5 L759.5,752.6 L760.5,756.9 L761.5,761.1 L762.5,765.3 L763.5,769.4 L764.5,773.5 L765.5,777.6 L766.5,781.5 L767.5,785.4 L768.5,789.1 L769.5,792.7 L770.5,796.2 L771.5,799.5 L772.5,802.6 L773.5,805.6 L774.5,808.4 L775.5,810.9 L776.5,813.3 L777.5,815.4 L778.5,817.3 L779.5,818.9 L780.5,820.3 L781.5,821.5 L782.5,822.3 L783.5,823.0 L784.5,823.3 L785.5,823.4 L786.5,823.2 L787.5,822.8 L788.5,822.1 L789.5,821.1 L790.5,819.9 L791.5,818.5 L792.5,816.7 L793.5,814.8 L794.5,812.6 L795.5,810.2 L796.5,807.6 L797.5,804.7 L798.5,801.7 L799.5,798.5 L800.5,795.2 L801.5,791.7 L802.5,788.0 L803.5,784.2 L804.5,780.3 L805.5,776.3 L806.5,772.3 L807.5,768.2 L808.5,764.0 L809.5,759.8 L810.5,755.6 L811.5,751.4 L812.5,747.2 L813.5,743.1 L814.5,739.0 L815.5,735.0 L816.5,731.0 L817.5,727.2 L818.5,723.5 L819.5,719.9 L820.5,716.5 L821.5,713.2 L822.5,710.1 L823.5,707.2 L824.5,704.5 L825.5,702.0 L826.5,699.7 L827.5,697.6 L828.5,695.8 L829.5,694.2 L830.5,692.9 L831.5,691.8 L832.5,691.0 L833.5,690.4 L834.5,690.1 L835.5,690.1 L836.5,690.3 L837.5,690.8 L838.5,691.6 L839.5,692.6 L840.5,693.9 L841.5,695.5 L842.5,697.2 L843.5,699.2 L844.5,701.5 L845.5,703.9 L846.5,706.6 L847.5,709.5 L848.5,712.6 L849.5,715.8 L850.5,719.2 L851.5,722.7 L852.5,726.4 L853.5,730.2 L854.5,734.2 L855.5,738.2 L856.5,742.2 L857.5,746.4 L858.5,750.5 L859.5,754.8 L860.5,759.0 L861.5,763.2 L862.5,767.3 L863.5,771.5 L864.5,775.5 L865.5,779.5 L866.5,783.4 L867.5,787.3 L868.5,790.9 L869.5,794.5 L870.5,797.9 L871.5,801.1 L872.5,804.2 L873.5,807.0 L874.5,809.7 L875.5,812.1 L876.5,814.4 L877.5,816.4 L878.5,818.1 L879.5,819.7 L880.5,820.9 L881.5,821.9 L882.5,822.7 L883.5,823.2 L884.5,823.4 L885.5,823.4 L886.5,823.1 L887.5,822.5 L888.5,821.7 L889.5,820.6 L890.5,819.2 L891.5,817.6 L892.5,815.8 L893.5,813.7 L894.5,811.4 L895.5,808.9 L896.5,806.2 L897.5,803.3 L898.5,800.1 L899.5,796.9 L900.5,793.4 L901.5,789.8 L902.5,786.1 L903.5,782.3 L904.5,778.4 L905.5,774.3 L906.5,770.2 L907.5,766.1 L908.5,761.9 L909.5,757.7 L910.5,753.5 L911.5,749.3 L912.5,745.1 L913.5,741.0 L914.5,737.0 L915.5,733.0 L916.5,729.1 L917.5,725.3 L918.5,721.7 L919.5,718.2 L920.5,714.8 L921.5,711.6 L922.5,708.6 L923.5,705.8 L924.5,703.2 L925.5,700.8 L926.5,698.6 L927.5,696.7 L928.5,695.0 L929.5,693.5 L930.5,692.3 L931.5,691.4 L932.5,690.7 L933.5,690.2 L934.5,690.1 L935.5,690.2 L936.5,690.6 L937.5,691.2 L938.5,692.1 L939.5,693.2 L940.5,694.7 L941.5,696.3 L942.5,698.2 L943.5,700.3 L944.5,702.7 L945.5,705.3 L946.5,708.0 L947.5,711.0 L948.5,714.2 L949.5,717.5 L950.5,721.0 L951.5,724.6 L952.5,728.3 L953.5,732.2 L954.5,736.1 L955.5,740.2 L956.5,744.3 L957.5,748.5 L958.5,752.6 L959.5,756.9 L960.5,761.1 L961.5,765.3 L962.5,769.4 L963.5,773.5 L964.5,777.6 L965.5,781.5 L966.5,785.4 L967.5,789.1 L968.5,792.7 L969.5,796.2 L970.5,799.5 L971.5,802.6 L972.5,805.6 L973.5,808.4 L974.5,810.9 L975.5,813.3 L976.5,815.4 L977.5,817.3 L978.5,818.9 L979.5,820.3 L980.5,821.5 L981.5,822.3 L982.5,823.0 L983.5,823.3 L984.5,823.4 L985.5,823.2 L986.5,822.8 L987.5,822.1 L988.5,821.1 L989.5,819.9 L990.5,818.5 L991.5,816.7 L992.5,814.8 L993.5,812.6 L994.5,810.2 L995.5,807.6 L996.5,804.7 L997.5,801.7 L998.5,798.5 L999.5,795.2 L1000.5,791.7 L1001.5,788.0 L1002.5,784.2 L1003.5,780.3 L1004.5,776.3 L1005.5,772.3 L1006.5,768.2 L1007.5,764.0 L1008.5,759.8 L1009.5,755.6 L1010.5,751.4 L1011.5,747.2 L1012.5,743.1 L1013.5,739.0 L1014.5,735.0 L1015.5,731.0 L1016.5,727.2 L1017.5,723.5 L1018.5,719.9 L1019.5,716.5 L1020.5,713.2 L1021.5,710.1 L1022.5,707.2 L1023.5,704.5 L1024.5,702.0 L1025.5,699.7 L1026.5,697.6 L1027.5,695.8 L1028.5,694.2 L1029.5,692.9 L1030.5,691.8 L1031.5,691.0 L1032.5,690.4 L1033.5,690.1 L1034.5,690.1 L1035.5,690.3 L1036.5,690.8 L1037.5,691.6 L1038.5,692.6 L1039.5,693.9 L1040.5,695.5 L1041.5,697.2 L1042.5,699.2 L1043.5,701.5 L1044.5,703.9 L1045.5,706.6 L1046.5,709.5 L1047.5,712.6 L1048.5,715.8 L1049.5,719.2 L1050.5,722.7 L1051.5,726.4 L1052.5,730.2 L1053.5,734.2 L1054.5,738.2 L1055.5,742.2 L1056.5,746.4 L1057.5,750.5 L1058.5,754.8 L1059.5,759.0 L1060.5,763.2 L1061.5,767.3 L1062.5,771.5 L1063.5,775.5 L1064.5,779.5 L1065.5,783.4 L1066.5,787.3 L1067.5,790.9 L1068.5,794.5 L1069.5,797.9 L1070.5,801.1 L1071.5,804.2 L1072.5,807.0 L1073.5,809.7 L1074.5,812.1 L1075.5,814.4 L1076.5,816.4 L1077.5,818.1 L1078.5,819.7 L1079.5,820.9 L1080.5,821.9 L1081.5,822.7 L1082.5,823.2 L1083.5,823.4 L1084.5,823.4 L1085.5,823.1 L1086.5,822.5 L1087.5,821.7 L1088.5,820.6 L1089.5,819.2 L1090.5,817.6 L1091.5,815.8 L1092.5,813.7 L1093.5,811.4 L1094.5,808.9 L1095.5,806.2 L1096.5,803.3 L1097.5,800.1 L1098.5,796.9 L1099.5,793.4 L1100.5,789.8 L1101.5,786.1 L1102.5,782.3 L1103.5,778.4 L1104.5,774.3 L1105.5,770.2 L1106.5,766.1 L1107.5,761.9 L1108.5,757.7 L1109.5,753.5 L1110.5,749.3 L1111.5,745.1 L1112.5,741.0 L1113.5,737.0 L1114.5,733.0 L1115.5,729.1 L1116.5,725.3 L1117.5,721.7 L1118.5,718.2 L1119.5,714.8 L1120.5,711.6 L1121.5,708.6 L1122.5,705.8 L1123.5,703.2 L1124.5,700.8 L1125.5,698.6 L1126.5,696.7" fill="none" stroke="#6ba717" stroke-width="3"/>
</g>
<rect x="704.5" y="575.5" width="422.79999999999995" height="362.5" fill="none" stroke="#222" stroke-width="1.9"/>
<line x1="704.5" y1="892.7" x2="707.5" y2="892.7" stroke="#222" stroke-width="1.6"/>
<line x1="704.5" y1="847.4" x2="710.5" y2="847.4" stroke="#222" stroke-width="1.6"/>
<line x1="704.5" y1="802.1" x2="707.5" y2="802.1" stroke="#222" stroke-width="1.6"/>
<line x1="704.5" y1="756.8" x2="710.5" y2="756.8" stroke="#222" stroke-width="1.6"/>
<line x1="704.5" y1="711.4" x2="707.5" y2="711.4" stroke="#222" stroke-width="1.6"/>
<line x1="704.5" y1="666.1" x2="710.5" y2="666.1" stroke="#222" stroke-width="1.6"/>
<line x1="704.5" y1="620.8" x2="707.5" y2="620.8" stroke="#222" stroke-width="1.6"/>
<line x1="810.2" y1="938" x2="810.2" y2="934.5" stroke="#222" stroke-width="1.6"/>
<line x1="915.9" y1="938" x2="915.9" y2="931" stroke="#222" stroke-width="1.6"/>
<line x1="1021.6" y1="938" x2="1021.6" y2="934.5" stroke="#222" stroke-width="1.6"/>
<text transform="translate(696.7,581.0) scale(0.86,1)" text-anchor="end" class="il">8</text>
<text transform="translate(696.7,671.6) scale(0.86,1)" text-anchor="end" class="il">4</text>
<text transform="translate(696.7,762.2) scale(0.86,1)" text-anchor="end" class="il">0</text>
<text transform="translate(696.7,852.9) scale(0.86,1)" text-anchor="end" class="il">-4</text>
<text transform="translate(696.7,943.5) scale(0.86,1)" text-anchor="end" class="il">-8</text>
<text transform="translate(704.5,961.5) scale(0.9,1)" text-anchor="middle" class="il">120.2</text>
<text transform="translate(915.9,961.5) scale(0.9,1)" text-anchor="middle" class="il">120.4</text>
<text transform="translate(1127.3,961.5) scale(0.9,1)" text-anchor="middle" class="il">120.6</text>
<text x="737" y="650" class="pl">(b)</text>
<rect x="1198.2" y="575" width="420.0" height="362.5" fill="#fff"/>
<g clip-path="url(#cc)">
<path d="M1198.2,739.4 L1198.9,732.7 L1199.6,726.1 L1200.3,719.9 L1201.0,713.9 L1201.7,708.4 L1202.4,703.3 L1203.1,698.7 L1203.8,694.7 L1204.5,691.2 L1205.2,688.3 L1205.9,686.0 L1206.6,684.3 L1207.3,683.3 L1208.0,683.0 L1208.7,683.3 L1209.4,684.3 L1210.1,686.0 L1210.8,688.3 L1211.5,691.2 L1212.2,694.7 L1212.9,698.7 L1213.6,703.3 L1214.3,708.4 L1215.0,713.9 L1215.7,719.9 L1216.4,726.1 L1217.1,732.7 L1217.8,739.4 L1218.5,746.4 L1219.2,753.4 L1219.9,760.6 L1220.6,768.0 L1221.3,775.3 L1222.0,782.5 L1222.7,789.5 L1223.4,796.2 L1224.1,802.6 L1224.8,808.6 L1225.5,814.1 L1226.2,819.2 L1226.9,823.7 L1227.6,827.7 L1228.3,831.0 L1229.0,833.8 L1229.7,835.8 L1230.4,837.2 L1231.1,837.9 L1231.8,837.9 L1232.5,837.2 L1233.2,835.8 L1233.9,833.8 L1234.6,831.0 L1235.3,827.7 L1236.0,823.7 L1236.7,819.2 L1237.4,814.1 L1238.1,808.6 L1238.8,802.6 L1239.5,796.2 L1240.2,789.5 L1240.9,782.5 L1241.6,775.3 L1242.3,768.0 L1243.0,760.6 L1243.7,753.4 L1244.4,746.4 L1245.1,739.4 L1245.8,732.7 L1246.5,726.1 L1247.2,719.9 L1247.9,713.9 L1248.6,708.4 L1249.3,703.3 L1250.0,698.7 L1250.7,694.7 L1251.4,691.2 L1252.1,688.3 L1252.8,686.0 L1253.5,684.3 L1254.2,683.3 L1254.9,683.0 L1255.6,683.3 L1256.3,684.3 L1257.0,686.0 L1257.7,688.3 L1258.4,691.2 L1259.1,694.7 L1259.8,698.7 L1260.5,703.3 L1261.2,708.4 L1261.9,713.9 L1262.6,719.9 L1263.3,726.1 L1264.0,732.7 L1264.7,739.4 L1265.4,746.4 L1266.1,753.4 L1266.8,760.6 L1267.5,768.0 L1268.2,775.3 L1268.9,782.5 L1269.6,789.5 L1270.3,796.2 L1271.0,802.6 L1271.7,808.6 L1272.4,814.1 L1273.1,819.2 L1273.8,823.7 L1274.5,827.7 L1275.2,831.0 L1275.9,833.8 L1276.6,835.8 L1277.3,837.2 L1278.0,837.9 L1278.7,837.9 L1279.4,837.2 L1280.1,835.8 L1280.8,833.8 L1281.5,831.0 L1282.2,827.7 L1282.9,823.7 L1283.6,819.2 L1284.3,814.1 L1285.0,808.6 L1285.7,802.6 L1286.4,796.2 L1287.1,789.5 L1287.8,782.5 L1288.5,775.3 L1289.2,768.0 L1289.9,760.6 L1290.6,753.6 L1291.3,746.7 L1292.0,739.9 L1292.7,733.3 L1293.4,727.0 L1294.1,720.9 L1294.8,715.1 L1295.5,709.7 L1296.2,704.8 L1296.9,700.3 L1297.6,696.4 L1298.3,693.0 L1299.0,690.1 L1299.7,687.9 L1300.4,686.3 L1301.1,685.3 L1301.8,685.0 L1302.5,685.3 L1303.2,686.3 L1303.9,687.9 L1304.6,690.1 L1305.3,693.0 L1306.0,696.4 L1306.7,700.3 L1307.4,704.8 L1308.1,709.7 L1308.8,715.1 L1309.5,720.9 L1310.2,727.0 L1310.9,733.3 L1311.6,739.9 L1312.3,746.7 L1313.0,753.6 L1313.7,760.6 L1314.4,768.0 L1315.1,775.3 L1315.8,782.5 L1316.5,789.5 L1317.2,796.2 L1317.9,802.6 L1318.6,808.6 L1319.3,814.1 L1320.0,819.2 L1320.7,823.7 L1321.4,827.7 L1322.1,831.0 L1322.8,833.8 L1323.5,835.8 L1324.2,837.2 L1324.9,837.9 L1325.6,837.9 L1326.3,837.2 L1327.0,835.8 L1327.7,833.8 L1328.4,831.0 L1329.1,827.7 L1329.8,823.7 L1330.5,819.2 L1331.2,814.1 L1331.9,808.6 L1332.6,802.6 L1333.3,796.2 L1334.0,789.5 L1334.7,782.5 L1335.4,775.3 L1336.1,768.0 L1336.8,760.6 L1337.5,752.8 L1338.2,744.9 L1338.9,737.1 L1339.6,729.6 L1340.3,722.2 L1341.0,715.2 L1341.7,708.6 L1342.4,702.4 L1343.1,696.8 L1343.8,691.6 L1344.5,687.1 L1345.2,683.1 L1345.9,679.9 L1346.6,677.3 L1347.3,675.5 L1348.0,674.4 L1348.7,674.0 L1349.4,674.4 L1350.1,675.5 L1350.8,677.3 L1351.5,679.9 L1352.2,683.1 L1352.9,687.1 L1353.6,691.6 L1354.3,696.8 L1355.0,702.4 L1355.7,708.6 L1356.4,715.2 L1357.1,722.2 L1357.8,729.6 L1358.5,737.1 L1359.2,744.9 L1359.9,752.8 L1360.6,760.6 L1361.3,768.0 L1362.0,775.3 L1362.7,782.5 L1363.4,789.5 L1364.1,796.2 L1364.8,802.6 L1365.5,808.6 L1366.2,814.1 L1366.9,819.2 L1367.6,823.7 L1368.3,827.7 L1369.0,831.0 L1369.7,833.8 L1370.4,835.8 L1371.1,837.2 L1371.8,837.9 L1372.5,837.9 L1373.2,837.2 L1373.9,835.8 L1374.6,833.8 L1375.3,831.0 L1376.0,827.7 L1376.7,823.7 L1377.4,819.2 L1378.1,814.1 L1378.8,808.6 L1379.5,802.6 L1380.2,796.2 L1380.9,789.5 L1381.6,782.5 L1382.3,775.3 L1383.0,768.0 L1383.7,760.6 L1384.4,752.6 L1385.1,744.4 L1385.8,736.4 L1386.5,728.5 L1387.2,720.9 L1387.9,713.7 L1388.6,706.8 L1389.3,700.4 L1390.0,694.6 L1390.7,689.2 L1391.4,684.5 L1392.1,680.5 L1392.8,677.1 L1393.5,674.4 L1394.2,672.5 L1394.9,671.4 L1395.6,671.0 L1396.3,671.4 L1397.0,672.5 L1397.7,674.4 L1398.4,677.1 L1399.1,680.5 L1399.8,684.5 L1400.5,689.2 L1401.2,694.6 L1401.9,700.4 L1402.6,706.8 L1403.3,713.7 L1404.0,720.9 L1404.7,728.5 L1405.4,736.4 L1406.1,744.4 L1406.8,752.6 L1407.5,760.6 L1408.2,768.0 L1408.9,775.3 L1409.6,782.5 L1410.3,789.5 L1411.0,796.2 L1411.7,802.6 L1412.4,808.6 L1413.1,814.1 L1413.8,819.2 L1414.5,823.7 L1415.2,827.7 L1415.9,831.0 L1416.6,833.8 L1417.3,835.8 L1418.0,837.2 L1418.7,837.9 L1419.4,837.9 L1420.1,837.2 L1420.8,835.8 L1421.5,833.8 L1422.2,831.0 L1422.9,827.7 L1423.6,823.7 L1424.3,819.2 L1425.0,814.1 L1425.7,808.6 L1426.4,802.6 L1427.1,796.2 L1427.8,789.5 L1428.5,782.5 L1429.2,775.3 L1429.9,768.0 L1430.6,760.6 L1431.3,752.7 L1432.0,744.7 L1432.7,736.8 L1433.4,729.0 L1434.1,721.6 L1434.8,714.5 L1435.5,707.7 L1436.2,701.4 L1436.9,695.7 L1437.6,690.4 L1438.3,685.8 L1439.0,681.8 L1439.7,678.5 L1440.4,675.9 L1441.1,674.0 L1441.8,672.9 L1442.5,672.5 L1443.2,672.9 L1443.9,674.0 L1444.6,675.9 L1445.3,678.5 L1446.0,681.8 L1446.7,685.8 L1447.4,690.4 L1448.1,695.7 L1448.8,701.4 L1449.5,707.7 L1450.2,714.5 L1450.9,721.6 L1451.6,729.0 L1452.3,736.8 L1453.0,744.7 L1453.7,752.7 L1454.4,760.6 L1455.1,768.0 L1455.8,775.3 L1456.5,782.5 L1457.2,789.5 L1457.9,796.2 L1458.6,802.6 L1459.3,808.6 L1460.0,814.1 L1460.7,819.2 L1461.4,823.7 L1462.1,827.7 L1462.8,831.0 L1463.5,833.8 L1464.2,835.8 L1464.9,837.2 L1465.6,837.9 L1466.3,837.9 L1467.0,837.2 L1467.7,835.8 L1468.4,833.8 L1469.1,831.0 L1469.8,827.7 L1470.5,823.7 L1471.2,819.2 L1471.9,814.1 L1472.6,808.6 L1473.3,802.6 L1474.0,796.2 L1474.7,789.5 L1475.4,782.5 L1476.1,775.3 L1476.8,768.0 L1477.5,760.6 L1478.2,752.9 L1478.9,745.2 L1479.6,737.6 L1480.3,730.2 L1481.0,723.1 L1481.7,716.3 L1482.4,709.8 L1483.1,703.8 L1483.8,698.2 L1484.5,693.2 L1485.2,688.8 L1485.9,684.9 L1486.6,681.8 L1487.3,679.3 L1488.0,677.5 L1488.7,676.4 L1489.4,676.0 L1490.1,676.4 L1490.8,677.5 L1491.5,679.3 L1492.2,681.8 L1492.9,684.9 L1493.6,688.8 L1494.3,693.2 L1495.0,698.2 L1495.7,703.8 L1496.4,709.8 L1497.1,716.3 L1497.8,723.1 L1498.5,730.2 L1499.2,737.6 L1499.9,745.2 L1500.6,752.9 L1501.3,760.6 L1502.0,768.0 L1502.7,775.3 L1503.4,782.5 L1504.1,789.5 L1504.8,796.2 L1505.5,802.6 L1506.2,808.6 L1506.9,814.1 L1507.6,819.2 L1508.3,823.7 L1509.0,827.7 L1509.7,831.0 L1510.4,833.8 L1511.1,835.8 L1511.8,837.2 L1512.5,837.9 L1513.2,837.9 L1513.9,837.2 L1514.6,835.8 L1515.3,833.8 L1516.0,831.0 L1516.7,827.7 L1517.4,823.7 L1518.1,819.2 L1518.8,814.1 L1519.5,808.6 L1520.2,802.6 L1520.9,796.2 L1521.6,789.5 L1522.3,782.5 L1523.0,775.3 L1523.7,768.0 L1524.4,760.6 L1525.1,752.6 L1525.8,744.4 L1526.5,736.4 L1527.2,728.5 L1527.9,720.9 L1528.6,713.7 L1529.3,706.8 L1530.0,700.4 L1530.7,694.6 L1531.4,689.2 L1532.1,684.5 L1532.8,680.5 L1533.5,677.1 L1534.2,674.4 L1534.9,672.5 L1535.6,671.4 L1536.3,671.0 L1537.0,671.4 L1537.7,672.5 L1538.4,674.4 L1539.1,677.1 L1539.8,680.5 L1540.5,684.5 L1541.2,689.2 L1541.9,694.6 L1542.6,700.4 L1543.3,706.8 L1544.0,713.7 L1544.7,720.9 L1545.4,728.5 L1546.1,736.4 L1546.8,744.4 L1547.5,752.6 L1548.2,760.6 L1548.9,768.0 L1549.6,775.3 L1550.3,782.5 L1551.0,789.5 L1551.7,796.2 L1552.4,802.6 L1553.1,808.6 L1553.8,814.1 L1554.5,819.2 L1555.2,823.7 L1555.9,827.7 L1556.6,831.0 L1557.3,833.8 L1558.0,835.8 L1558.7,837.2 L1559.4,837.9 L1560.1,837.9 L1560.8,837.2 L1561.5,835.8 L1562.2,833.8 L1562.9,831.0 L1563.6,827.7 L1564.3,823.7 L1565.0,819.2 L1565.7,814.1 L1566.4,808.6 L1567.1,802.6 L1567.8,796.2 L1568.5,789.5 L1569.2,782.5 L1569.9,775.3 L1570.6,768.0 L1571.3,760.6 L1572.0,752.9 L1572.7,745.2 L1573.4,737.6 L1574.1,730.2 L1574.8,723.1 L1575.5,716.3 L1576.2,709.8 L1576.9,703.8 L1577.6,698.2 L1578.3,693.2 L1579.0,688.8 L1579.7,684.9 L1580.4,681.8 L1581.1,679.3 L1581.8,677.5 L1582.5,676.4 L1583.2,676.0 L1583.9,676.4 L1584.6,677.5 L1585.3,679.3 L1586.0,681.8 L1586.7,684.9 L1587.4,688.8 L1588.1,693.2 L1588.8,698.2 L1589.5,703.8 L1590.2,709.8 L1590.9,716.3 L1591.6,723.1 L1592.3,730.2 L1593.0,737.6 L1593.7,745.2 L1594.4,752.9 L1595.1,760.6 L1595.8,768.0 L1596.5,775.3 L1597.2,782.5 L1597.9,789.5 L1598.6,796.2 L1599.3,802.6 L1600.0,808.6 L1600.7,814.1 L1601.4,819.2 L1602.1,823.7 L1602.8,827.7 L1603.5,831.0 L1604.2,833.8 L1604.9,835.8 L1605.6,837.2 L1606.3,837.9 L1607.0,837.9 L1607.7,837.2 L1608.4,835.8 L1609.1,833.8 L1609.8,831.0 L1610.5,827.7 L1611.2,823.7 L1611.9,819.2 L1612.6,814.1 L1613.3,808.6 L1614.0,802.6 L1614.7,796.2 L1615.4,789.5 L1616.1,782.5 L1616.8,775.3 L1617.5,768.0 L1618.2,760.6" fill="none" stroke="#000" stroke-width="3" stroke-dasharray="9 6"/>
<path d="M1198.2,755.8 L1199.7,757.8 L1201.2,758.8 L1202.7,760.3 L1204.2,761.2 L1205.7,761.0 L1207.2,761.2 L1208.7,762.6 L1210.2,761.5 L1211.7,761.0 L1213.2,761.5 L1214.7,759.8 L1216.2,759.3 L1217.7,757.6 L1219.2,756.6 L1220.7,754.6 L1222.2,754.2 L1223.7,753.5 L1225.2,752.1 L1226.7,751.7 L1228.2,751.1 L1229.7,749.8 L1231.2,750.9 L1232.7,750.9 L1234.2,750.9 L1235.7,751.2 L1237.2,753.5 L1238.7,753.9 L1240.2,755.5 L1241.7,756.9 L1243.2,757.9 L1244.7,759.4 L1246.2,759.6 L1247.7,761.2 L1249.2,761.3 L1250.7,762.6 L1252.2,762.7 L1253.7,761.4 L1255.2,761.1 L1256.7,760.6 L1258.2,760.9 L1259.7,759.0 L1261.2,758.0 L1262.7,756.0 L1264.2,754.8 L1265.7,753.0 L1267.2,751.4 L1268.7,750.3 L1270.2,748.9 L1271.7,748.3 L1273.2,747.0 L1274.7,746.7 L1276.2,746.2 L1277.7,746.3 L1279.2,746.0 L1280.7,745.7 L1282.2,747.6 L1283.7,748.8 L1285.2,750.0 L1286.7,750.8 L1288.2,752.6 L1289.7,753.4 L1291.2,755.9 L1292.7,757.0 L1294.2,758.0 L1295.7,758.9 L1297.2,761.1 L1298.7,762.1 L1300.2,761.2 L1301.7,762.6 L1303.2,761.9 L1304.7,761.2 L1306.2,760.8 L1307.7,760.8 L1309.2,760.0 L1310.7,757.5 L1312.2,757.3 L1313.7,755.1 L1315.2,755.0 L1316.7,753.2 L1318.2,753.1 L1319.7,752.4 L1321.2,751.1 L1322.7,751.4 L1324.2,750.2 L1325.7,749.9 L1327.2,751.1 L1328.7,750.8 L1330.2,751.9 L1331.7,753.2 L1333.2,754.7 L1334.7,755.1 L1336.2,756.2 L1337.7,758.7 L1339.2,758.9 L1340.7,761.0 L1342.2,761.7 L1343.7,761.5 L1345.2,762.0 L1346.7,762.1 L1348.2,762.1 L1349.7,761.6 L1351.2,760.8 L1352.7,759.9 L1354.2,759.2 L1355.7,757.1 L1357.2,755.5 L1358.7,754.4 L1360.2,752.0 L1361.7,750.6 L1363.2,750.3 L1364.7,748.3 L1366.2,747.2 L1367.7,745.5 L1369.2,745.6 L1370.7,745.6 L1372.2,744.8 L1373.7,746.1 L1375.2,746.8 L1376.7,746.8 L1378.2,748.8 L1379.7,749.9 L1381.2,751.7 L1382.7,752.8 L1384.2,754.9 L1385.7,756.5 L1387.2,756.8 L1388.7,758.2 L1390.2,760.3 L1391.7,761.7 L1393.2,761.2 L1394.7,761.9 L1396.2,762.3 L1397.7,761.6 L1399.2,761.3 L1400.7,760.5 L1402.2,759.7 L1403.7,759.0 L1405.2,757.4 L1406.7,756.3 L1408.2,755.7 L1409.7,753.3 L1411.2,753.1 L1412.7,752.5 L1414.2,751.0 L1415.7,750.4 L1417.2,751.0 L1418.7,750.1 L1420.2,750.3 L1421.7,751.1 L1423.2,752.2 L1424.7,752.2 L1426.2,753.6 L1427.7,754.8 L1429.2,756.8 L1430.7,757.4 L1432.2,759.2 L1433.7,759.2 L1435.2,760.4 L1436.7,761.6 L1438.2,762.5 L1439.7,762.0 L1441.2,761.6 L1442.7,761.1 L1444.2,761.2 L1445.7,759.8 L1447.2,759.7 L1448.7,758.4 L1450.2,755.9 L1451.7,754.5 L1453.2,753.8 L1454.7,752.0 L1456.2,750.7 L1457.7,748.6 L1459.2,747.1 L1460.7,746.4 L1462.2,746.5 L1463.7,745.2 L1465.2,745.3 L1466.7,745.6 L1468.2,746.1 L1469.7,746.8 L1471.2,748.7 L1472.7,748.7 L1474.2,749.8 L1475.7,752.9 L1477.2,754.3 L1478.7,756.1 L1480.2,756.7 L1481.7,759.0 L1483.2,760.2 L1484.7,760.1 L1486.2,761.7 L1487.7,762.4 L1489.2,762.4 L1490.7,762.1 L1492.2,761.4 L1493.7,760.9 L1495.2,760.0 L1496.7,758.8 L1498.2,758.5 L1499.7,756.8 L1501.2,756.4 L1502.7,754.0 L1504.2,754.2 L1505.7,752.9 L1507.2,752.4 L1508.7,751.7 L1510.2,751.3 L1511.7,750.6 L1513.2,749.8 L1514.7,751.3 L1516.2,751.0 L1517.7,752.0 L1519.2,753.6 L1520.7,754.4 L1522.2,755.5 L1523.7,757.5 L1525.2,758.2 L1526.7,758.9 L1528.2,759.8 L1529.7,761.6 L1531.2,761.6 L1532.7,762.5 L1534.2,761.9 L1535.7,761.4 L1537.2,761.5 L1538.7,761.3 L1540.2,759.2 L1541.7,759.1 L1543.2,757.9 L1544.7,756.2 L1546.2,754.7 L1547.7,751.8 L1549.2,751.2 L1550.7,750.2 L1552.2,747.6 L1553.7,746.9 L1555.2,746.0 L1556.7,745.8 L1558.2,745.4 L1559.7,745.5 L1561.2,746.3 L1562.7,745.7 L1564.2,746.7 L1565.7,747.9 L1567.2,749.3 L1568.7,750.6 L1570.2,753.6 L1571.7,755.0 L1573.2,755.4 L1574.7,757.5 L1576.2,758.5 L1577.7,759.7 L1579.2,760.7 L1580.7,761.8 L1582.2,762.1 L1583.7,761.9 L1585.2,761.5 L1586.7,761.3 L1588.2,760.3 L1589.7,760.1 L1591.2,759.3 L1592.7,757.6 L1594.2,755.9 L1595.7,754.8 L1597.2,754.0 L1598.7,753.3 L1600.2,752.6 L1601.7,751.2 L1603.2,751.3 L1604.7,750.8 L1606.2,750.4 L1607.7,750.5 L1609.2,751.2 L1610.7,752.2 L1612.2,752.6 L1613.7,754.1 L1615.2,754.9 L1616.7,755.8 L1618.2,757.5" fill="none" stroke="#ff0000" stroke-width="4"/>
<path d="M1198.2,759.3 L1199.7,759.4 L1201.2,760.8 L1202.7,761.4 L1204.2,762.6 L1205.7,762.8 L1207.2,761.8 L1208.7,762.2 L1210.2,761.3 L1211.7,759.5 L1213.2,758.7 L1214.7,756.8 L1216.2,756.4 L1217.7,754.6 L1219.2,753.4 L1220.7,751.7 L1222.2,750.0 L1223.7,748.8 L1225.2,747.4 L1226.7,745.8 L1228.2,746.0 L1229.7,744.8 L1231.2,745.0 L1232.7,746.3 L1234.2,745.7 L1235.7,746.6 L1237.2,747.7 L1238.7,750.3 L1240.2,750.6 L1241.7,751.9 L1243.2,754.8 L1244.7,755.2 L1246.2,757.9 L1247.7,758.9 L1249.2,760.4 L1250.7,761.5 L1252.2,761.6 L1253.7,762.4 L1255.2,761.4 L1256.7,762.4 L1258.2,761.6 L1259.7,761.3 L1261.2,759.5 L1262.7,759.5 L1264.2,758.7 L1265.7,756.0 L1267.2,755.2 L1268.7,754.4 L1270.2,753.8 L1271.7,751.9 L1273.2,751.0 L1274.7,750.5 L1276.2,750.8 L1277.7,750.9 L1279.2,750.5 L1280.7,750.9 L1282.2,751.6 L1283.7,752.4 L1285.2,753.5 L1286.7,754.1 L1288.2,756.0 L1289.7,758.0 L1291.2,758.3 L1292.7,759.9 L1294.2,759.9 L1295.7,761.5 L1297.2,762.2 L1298.7,762.3 L1300.2,762.1 L1301.7,761.8 L1303.2,761.5 L1304.7,761.1 L1306.2,758.8 L1307.7,757.5 L1309.2,757.1 L1310.7,755.9 L1312.2,753.7 L1313.7,752.0 L1315.2,750.9 L1316.7,748.6 L1318.2,747.5 L1319.7,746.4 L1321.2,746.3 L1322.7,745.4 L1324.2,745.1 L1325.7,745.9 L1327.2,746.8 L1328.7,746.5 L1330.2,748.1 L1331.7,748.8 L1333.2,750.9 L1334.7,752.0 L1336.2,753.0 L1337.7,754.5 L1339.2,755.8 L1340.7,757.9 L1342.2,759.1 L1343.7,759.8 L1345.2,760.9 L1346.7,761.5 L1348.2,762.5 L1349.7,761.5 L1351.2,762.6 L1352.7,761.3 L1354.2,760.8 L1355.7,759.6 L1357.2,759.1 L1358.7,757.9 L1360.2,756.3 L1361.7,754.9 L1363.2,754.2 L1364.7,753.3 L1366.2,751.7 L1367.7,751.6 L1369.2,751.5 L1370.7,750.5 L1372.2,750.1 L1373.7,750.4 L1375.2,751.7 L1376.7,752.4 L1378.2,753.8 L1379.7,754.7 L1381.2,754.9 L1382.7,756.1 L1384.2,757.4 L1385.7,758.5 L1387.2,760.3 L1388.7,761.4 L1390.2,762.2 L1391.7,761.6 L1393.2,762.7 L1394.7,761.7 L1396.2,761.5 L1397.7,761.3 L1399.2,759.3 L1400.7,758.2 L1402.2,758.0 L1403.7,755.7 L1405.2,754.2 L1406.7,753.0 L1408.2,751.6 L1409.7,749.1 L1411.2,748.3 L1412.7,747.3 L1414.2,746.5 L1415.7,745.4 L1417.2,745.7 L1418.7,746.3 L1420.2,745.6 L1421.7,746.4 L1423.2,746.6 L1424.7,747.9 L1426.2,749.9 L1427.7,750.4 L1429.2,753.2 L1430.7,754.8 L1432.2,755.1 L1433.7,757.9 L1435.2,758.4 L1436.7,760.2 L1438.2,761.2 L1439.7,761.1 L1441.2,762.2 L1442.7,762.4 L1444.2,762.5 L1445.7,761.3 L1447.2,761.4 L1448.7,760.9 L1450.2,759.4 L1451.7,758.1 L1453.2,756.2 L1454.7,755.6 L1456.2,754.2 L1457.7,753.6 L1459.2,752.6 L1460.7,751.6 L1462.2,750.4 L1463.7,750.8 L1465.2,750.7 L1466.7,750.2 L1468.2,751.7 L1469.7,752.0 L1471.2,752.0 L1472.7,754.3 L1474.2,754.1 L1475.7,755.7 L1477.2,757.5 L1478.7,758.5 L1480.2,759.5 L1481.7,760.7 L1483.2,761.1 L1484.7,761.5 L1486.2,761.5 L1487.7,761.4 L1489.2,762.2 L1490.7,761.7 L1492.2,760.6 L1493.7,759.9 L1495.2,758.0 L1496.7,756.5 L1498.2,755.1 L1499.7,754.3 L1501.2,751.4 L1502.7,750.6 L1504.2,748.8 L1505.7,748.4 L1507.2,746.7 L1508.7,745.9 L1510.2,745.5 L1511.7,745.6 L1513.2,746.1 L1514.7,745.8 L1516.2,747.3 L1517.7,747.1 L1519.2,748.5 L1520.7,749.6 L1522.2,751.1 L1523.7,753.8 L1525.2,755.3 L1526.7,755.9 L1528.2,757.4 L1529.7,759.0 L1531.2,760.6 L1532.7,761.6 L1534.2,762.1 L1535.7,762.2 L1537.2,761.5 L1538.7,761.7 L1540.2,760.9 L1541.7,760.7 L1543.2,759.8 L1544.7,758.2 L1546.2,757.1 L1547.7,756.7 L1549.2,754.3 L1550.7,754.4 L1552.2,753.4 L1553.7,752.6 L1555.2,751.0 L1556.7,750.8 L1558.2,750.7 L1559.7,750.8 L1561.2,751.6 L1562.7,751.6 L1564.2,751.8 L1565.7,753.6 L1567.2,754.1 L1568.7,755.4 L1570.2,756.9 L1571.7,756.9 L1573.2,759.3 L1574.7,760.2 L1576.2,760.8 L1577.7,761.5 L1579.2,761.9 L1580.7,761.6 L1582.2,762.1 L1583.7,760.9 L1585.2,761.0 L1586.7,760.3 L1588.2,758.8 L1589.7,757.7 L1591.2,756.9 L1592.7,755.2 L1594.2,752.4 L1595.7,751.9 L1597.2,750.2 L1598.7,747.9 L1600.2,747.3 L1601.7,746.1 L1603.2,745.2 L1604.7,745.6 L1606.2,746.2 L1607.7,745.5 L1609.2,746.9 L1610.7,747.5 L1612.2,747.6 L1613.7,750.1 L1615.2,751.1 L1616.7,753.2 L1618.2,754.4" fill="none" stroke="#6ba717" stroke-width="4.6"/>
</g>
<rect x="1198.2" y="575" width="420.0" height="362.5" fill="none" stroke="#222" stroke-width="1.9"/>
<line x1="1198.2" y1="892.2" x2="1201.2" y2="892.2" stroke="#222" stroke-width="1.6"/>
<line x1="1198.2" y1="846.9" x2="1204.2" y2="846.9" stroke="#222" stroke-width="1.6"/>
<line x1="1198.2" y1="801.6" x2="1201.2" y2="801.6" stroke="#222" stroke-width="1.6"/>
<line x1="1198.2" y1="756.2" x2="1204.2" y2="756.2" stroke="#222" stroke-width="1.6"/>
<line x1="1198.2" y1="710.9" x2="1201.2" y2="710.9" stroke="#222" stroke-width="1.6"/>
<line x1="1198.2" y1="665.6" x2="1204.2" y2="665.6" stroke="#222" stroke-width="1.6"/>
<line x1="1198.2" y1="620.3" x2="1201.2" y2="620.3" stroke="#222" stroke-width="1.6"/>
<line x1="1303.2" y1="937.5" x2="1303.2" y2="934.0" stroke="#222" stroke-width="1.6"/>
<line x1="1408.2" y1="937.5" x2="1408.2" y2="930.5" stroke="#222" stroke-width="1.6"/>
<line x1="1513.2" y1="937.5" x2="1513.2" y2="934.0" stroke="#222" stroke-width="1.6"/>
<text transform="translate(1190.4,580.5) scale(0.86,1)" text-anchor="end" class="il">8</text>
<text transform="translate(1190.4,671.1) scale(0.86,1)" text-anchor="end" class="il">4</text>
<text transform="translate(1190.4,761.8) scale(0.86,1)" text-anchor="end" class="il">0</text>
<text transform="translate(1190.4,852.4) scale(0.86,1)" text-anchor="end" class="il">-4</text>
<text transform="translate(1190.4,943.0) scale(0.86,1)" text-anchor="end" class="il">-8</text>
<text transform="translate(1198.2,961.0) scale(0.9,1)" text-anchor="middle" class="il">170.0</text>
<text transform="translate(1408.2,961.0) scale(0.9,1)" text-anchor="middle" class="il">170.2</text>
<text transform="translate(1618.2,961.0) scale(0.9,1)" text-anchor="middle" class="il">170.4</text>
<text x="1229" y="650" class="pl">(c)</text>
</svg>
</body></html>
